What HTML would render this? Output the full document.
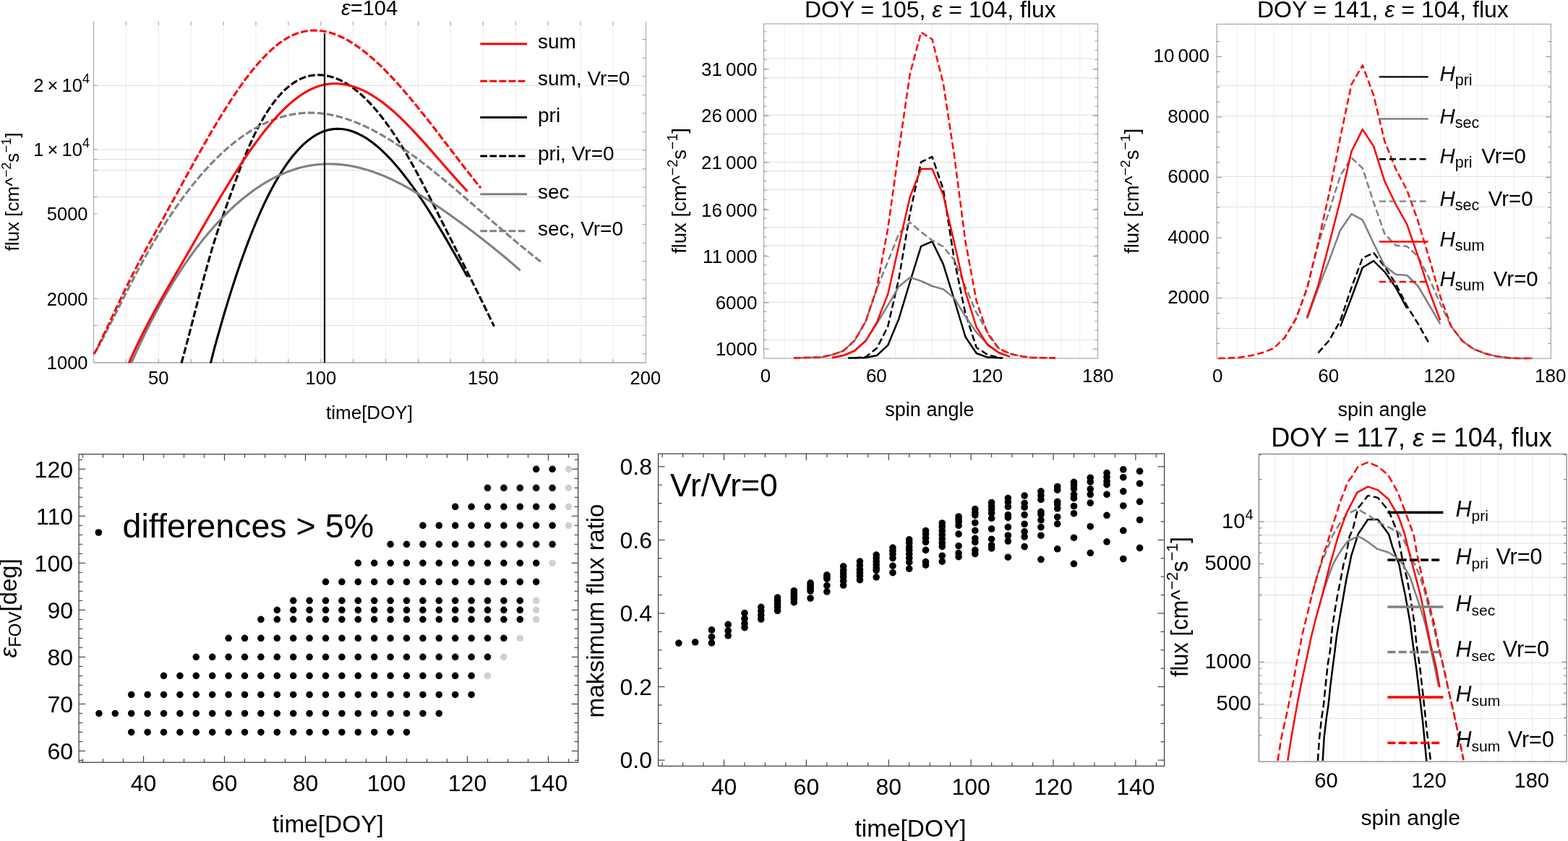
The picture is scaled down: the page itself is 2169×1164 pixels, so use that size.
<!DOCTYPE html>
<html><head><meta charset="utf-8"><title>Flux plots</title>
<style>html,body{margin:0;padding:0;background:#fff;}svg{display:block;}text{fill:#000;}</style>
</head><body>
<svg width="2169" height="1164" viewBox="0 0 2169 1164" font-family="'Liberation Sans', Arial, Helvetica, sans-serif">
<rect width="2169" height="1164" fill="#fff"/>
<line x1="174.4" y1="30" x2="174.4" y2="502" stroke="#ececec" stroke-width="1" />
<line x1="219.3" y1="30" x2="219.3" y2="502" stroke="#ececec" stroke-width="1" />
<line x1="264.2" y1="30" x2="264.2" y2="502" stroke="#ececec" stroke-width="1" />
<line x1="309.1" y1="30" x2="309.1" y2="502" stroke="#ececec" stroke-width="1" />
<line x1="354" y1="30" x2="354" y2="502" stroke="#ececec" stroke-width="1" />
<line x1="398.9" y1="30" x2="398.9" y2="502" stroke="#ececec" stroke-width="1" />
<line x1="443.8" y1="30" x2="443.8" y2="502" stroke="#ececec" stroke-width="1" />
<line x1="488.7" y1="30" x2="488.7" y2="502" stroke="#ececec" stroke-width="1" />
<line x1="533.6" y1="30" x2="533.6" y2="502" stroke="#ececec" stroke-width="1" />
<line x1="578.5" y1="30" x2="578.5" y2="502" stroke="#ececec" stroke-width="1" />
<line x1="623.4" y1="30" x2="623.4" y2="502" stroke="#ececec" stroke-width="1" />
<line x1="668.3" y1="30" x2="668.3" y2="502" stroke="#ececec" stroke-width="1" />
<line x1="713.2" y1="30" x2="713.2" y2="502" stroke="#ececec" stroke-width="1" />
<line x1="758.1" y1="30" x2="758.1" y2="502" stroke="#ececec" stroke-width="1" />
<line x1="803" y1="30" x2="803" y2="502" stroke="#ececec" stroke-width="1" />
<line x1="847.9" y1="30" x2="847.9" y2="502" stroke="#ececec" stroke-width="1" />
<line x1="129.5" y1="118.4" x2="893.5" y2="118.4" stroke="#dedede" stroke-width="1" />
<line x1="129.5" y1="207" x2="893.5" y2="207" stroke="#dedede" stroke-width="1" />
<line x1="129.5" y1="220.5" x2="893.5" y2="220.5" stroke="#dedede" stroke-width="1" />
<line x1="129.5" y1="235.6" x2="893.5" y2="235.6" stroke="#dedede" stroke-width="1" />
<line x1="129.5" y1="272.5" x2="893.5" y2="272.5" stroke="#dedede" stroke-width="1" />
<line x1="129.5" y1="413.5" x2="893.5" y2="413.5" stroke="#dedede" stroke-width="1" />
<line x1="129.5" y1="450.4" x2="893.5" y2="450.4" stroke="#dedede" stroke-width="1" />
<line x1="129.5" y1="30" x2="129.5" y2="502" stroke="#a0a0a0" stroke-width="1" />
<line x1="129.5" y1="502" x2="893.5" y2="502" stroke="#a0a0a0" stroke-width="1.3" />
<line x1="893.5" y1="30" x2="893.5" y2="502" stroke="#a0a0a0" stroke-width="1" />
<line x1="174.4" y1="30" x2="174.4" y2="35" stroke="#999" stroke-width="1" />
<line x1="174.4" y1="502" x2="174.4" y2="497" stroke="#999" stroke-width="1" />
<line x1="219.3" y1="30" x2="219.3" y2="35" stroke="#999" stroke-width="1" />
<line x1="219.3" y1="502" x2="219.3" y2="497" stroke="#999" stroke-width="1" />
<line x1="264.2" y1="30" x2="264.2" y2="35" stroke="#999" stroke-width="1" />
<line x1="264.2" y1="502" x2="264.2" y2="497" stroke="#999" stroke-width="1" />
<line x1="309.1" y1="30" x2="309.1" y2="35" stroke="#999" stroke-width="1" />
<line x1="309.1" y1="502" x2="309.1" y2="497" stroke="#999" stroke-width="1" />
<line x1="354" y1="30" x2="354" y2="35" stroke="#999" stroke-width="1" />
<line x1="354" y1="502" x2="354" y2="497" stroke="#999" stroke-width="1" />
<line x1="398.9" y1="30" x2="398.9" y2="35" stroke="#999" stroke-width="1" />
<line x1="398.9" y1="502" x2="398.9" y2="497" stroke="#999" stroke-width="1" />
<line x1="443.8" y1="30" x2="443.8" y2="35" stroke="#999" stroke-width="1" />
<line x1="443.8" y1="502" x2="443.8" y2="497" stroke="#999" stroke-width="1" />
<line x1="488.7" y1="30" x2="488.7" y2="35" stroke="#999" stroke-width="1" />
<line x1="488.7" y1="502" x2="488.7" y2="497" stroke="#999" stroke-width="1" />
<line x1="533.6" y1="30" x2="533.6" y2="35" stroke="#999" stroke-width="1" />
<line x1="533.6" y1="502" x2="533.6" y2="497" stroke="#999" stroke-width="1" />
<line x1="578.5" y1="30" x2="578.5" y2="35" stroke="#999" stroke-width="1" />
<line x1="578.5" y1="502" x2="578.5" y2="497" stroke="#999" stroke-width="1" />
<line x1="623.4" y1="30" x2="623.4" y2="35" stroke="#999" stroke-width="1" />
<line x1="623.4" y1="502" x2="623.4" y2="497" stroke="#999" stroke-width="1" />
<line x1="668.3" y1="30" x2="668.3" y2="35" stroke="#999" stroke-width="1" />
<line x1="668.3" y1="502" x2="668.3" y2="497" stroke="#999" stroke-width="1" />
<line x1="713.2" y1="30" x2="713.2" y2="35" stroke="#999" stroke-width="1" />
<line x1="713.2" y1="502" x2="713.2" y2="497" stroke="#999" stroke-width="1" />
<line x1="758.1" y1="30" x2="758.1" y2="35" stroke="#999" stroke-width="1" />
<line x1="758.1" y1="502" x2="758.1" y2="497" stroke="#999" stroke-width="1" />
<line x1="803" y1="30" x2="803" y2="35" stroke="#999" stroke-width="1" />
<line x1="803" y1="502" x2="803" y2="497" stroke="#999" stroke-width="1" />
<line x1="847.9" y1="30" x2="847.9" y2="35" stroke="#999" stroke-width="1" />
<line x1="847.9" y1="502" x2="847.9" y2="497" stroke="#999" stroke-width="1" />
<line x1="129.5" y1="118.4" x2="134.5" y2="118.4" stroke="#999" stroke-width="1" />
<line x1="129.5" y1="207" x2="134.5" y2="207" stroke="#999" stroke-width="1" />
<line x1="129.5" y1="220.5" x2="134.5" y2="220.5" stroke="#999" stroke-width="1" />
<line x1="129.5" y1="235.6" x2="134.5" y2="235.6" stroke="#999" stroke-width="1" />
<line x1="129.5" y1="272.5" x2="134.5" y2="272.5" stroke="#999" stroke-width="1" />
<line x1="129.5" y1="296" x2="134.5" y2="296" stroke="#999" stroke-width="1" />
<line x1="129.5" y1="413.5" x2="134.5" y2="413.5" stroke="#999" stroke-width="1" />
<line x1="129.5" y1="450.4" x2="134.5" y2="450.4" stroke="#999" stroke-width="1" />
<line x1="893.5" y1="54.5" x2="888.5" y2="54.5" stroke="#999" stroke-width="1" />
<line x1="893.5" y1="80.1" x2="888.5" y2="80.1" stroke="#999" stroke-width="1" />
<line x1="893.5" y1="105.7" x2="888.5" y2="105.7" stroke="#999" stroke-width="1" />
<line x1="893.5" y1="131.3" x2="888.5" y2="131.3" stroke="#999" stroke-width="1" />
<line x1="893.5" y1="156.9" x2="888.5" y2="156.9" stroke="#999" stroke-width="1" />
<line x1="893.5" y1="182.5" x2="888.5" y2="182.5" stroke="#999" stroke-width="1" />
<line x1="893.5" y1="208.1" x2="888.5" y2="208.1" stroke="#999" stroke-width="1" />
<line x1="893.5" y1="233.7" x2="888.5" y2="233.7" stroke="#999" stroke-width="1" />
<line x1="893.5" y1="259.3" x2="888.5" y2="259.3" stroke="#999" stroke-width="1" />
<line x1="893.5" y1="284.9" x2="888.5" y2="284.9" stroke="#999" stroke-width="1" />
<line x1="893.5" y1="310.5" x2="888.5" y2="310.5" stroke="#999" stroke-width="1" />
<line x1="893.5" y1="336.1" x2="888.5" y2="336.1" stroke="#999" stroke-width="1" />
<line x1="893.5" y1="361.7" x2="888.5" y2="361.7" stroke="#999" stroke-width="1" />
<line x1="893.5" y1="387.3" x2="888.5" y2="387.3" stroke="#999" stroke-width="1" />
<line x1="893.5" y1="412.9" x2="888.5" y2="412.9" stroke="#999" stroke-width="1" />
<line x1="893.5" y1="438.5" x2="888.5" y2="438.5" stroke="#999" stroke-width="1" />
<line x1="893.5" y1="464.1" x2="888.5" y2="464.1" stroke="#999" stroke-width="1" />
<line x1="893.5" y1="489.7" x2="888.5" y2="489.7" stroke="#999" stroke-width="1" />
<polyline points="291.4,502.5 294.4,490.31 297.4,479.19 300.4,468.28 303.4,457.58 306.4,447.08 309.4,436.79 312.4,426.71 315.4,416.83 318.4,407.15 321.4,397.69 324.4,388.42 327.4,379.36 330.4,370.51 333.4,361.86 336.4,353.41 339.4,345.17 342.4,337.12 345.4,329.29 348.4,321.65 351.4,314.23 354.4,307.01 357.4,300 360.4,293.2 363.4,286.6 366.4,280.21 369.4,274.03 372.4,268.05 375.4,262.28 378.4,256.71 381.4,251.33 384.4,246.16 387.4,241.19 390.4,236.42 393.4,231.84 396.4,227.46 399.4,223.27 402.4,219.28 405.4,215.48 408.4,211.88 411.4,208.46 414.4,205.23 417.4,202.19 420.4,199.34 423.4,196.68 426.4,194.2 429.4,191.91 432.4,189.8 435.4,187.87 438.4,186.12 441.4,184.55 444.4,183.17 447.4,181.96 450.4,180.92 453.4,180.07 456.4,179.38 459.4,178.86 462.4,178.51 465.4,178.33 468.4,178.31 471.4,178.45 474.4,178.74 477.4,179.19 480.4,179.8 483.4,180.56 486.4,181.46 489.4,182.51 492.4,183.71 495.4,185.05 498.4,186.52 501.4,188.14 504.4,189.89 507.4,191.77 510.4,193.78 513.4,195.92 516.4,198.18 519.4,200.57 522.4,203.07 525.4,205.7 528.4,208.44 531.4,211.29 534.4,214.26 537.4,217.34 540.4,220.52 543.4,223.8 546.4,227.19 549.4,230.68 552.4,234.26 555.4,237.94 558.4,241.72 561.4,245.58 564.4,249.53 567.4,253.56 570.4,257.68 573.4,261.88 576.4,266.16 579.4,270.52 582.4,274.95 585.4,279.45 588.4,284.02 591.4,288.65 594.4,293.35 597.4,298.12 600.4,302.94 603.4,307.82 606.4,312.76 609.4,317.74 612.4,322.78 615.4,327.87 618.4,333 621.4,338.18 624.4,343.4 627.4,348.65 630.4,353.95 633.4,359.27 636.4,364.63 639.4,370.02 642.4,375.44 645.4,380.88 646.8,383" fill="none" stroke="#000" stroke-width="3.1" stroke-linejoin="round" />
<polyline points="251,502.5 254,491.63 257,480.47 260,469.13 263,457.66 266,446.11 269,434.51 272,422.92 275,411.38 278,399.93 281,388.62 284,377.49 287,366.59 290,355.97 293,345.66 296,335.71 299,326.17 302,317.04 305,308.24 308,299.69 311,291.33 314,283.08 317,274.86 320,266.61 323,258.29 326,249.99 329,241.76 332,233.67 335,225.81 338,218.22 341,210.91 344,203.88 347,197.13 350,190.65 353,184.44 356,178.5 359,172.81 362,167.38 365,162.2 368,157.28 371,152.59 374,148.15 377,143.95 380,139.98 383,136.24 386,132.72 389,129.43 392,126.36 395,123.5 398,120.85 401,118.41 404,116.17 407,114.13 410,112.28 413,110.63 416,109.17 419,107.88 422,106.78 425,105.86 428,105.1 431,104.52 434,104.1 437,103.84 440,103.74 443,103.79 446,103.99 449,104.34 452,104.82 455,105.46 458,106.23 461,107.14 464,108.19 467,109.37 470,110.7 473,112.16 476,113.75 479,115.48 482,117.35 485,119.34 488,121.47 491,123.72 494,126.11 497,128.62 500,131.26 503,134.03 506,136.92 509,139.94 512,143.08 515,146.35 518,149.73 521,153.24 524,156.87 527,160.61 530,164.47 533,168.45 536,172.55 539,176.76 542,181.09 545,185.53 548,190.08 551,194.74 554,199.51 557,204.39 560,209.38 563,214.48 566,219.69 569,224.99 572,230.38 575,235.87 578,241.43 581,247.06 584,252.76 587,258.52 590,264.34 593,270.19 596,276.09 599,282.02 602,287.98 605,293.96 608,299.95 611,305.94 614,311.94 617,317.92 620,323.9 623,329.86 626,335.81 629,341.75 632,347.69 635,353.63 638,359.56 641,365.5 644,371.45 647,377.41 650,383.37 653,389.36 656,395.36 659,401.38 662,407.43 665,413.5 668,419.6 671,425.73 674,431.9 677,438.11 680,444.35 683,450.64 683.5,451.7" fill="none" stroke="#000" stroke-width="3.1" stroke-linejoin="round" stroke-dasharray="9.7,3.4" />
<polyline points="181.5,502.5 184.5,495.98 187.5,489.38 190.5,482.89 193.5,476.5 196.5,470.21 199.5,464.02 202.5,457.93 205.5,451.95 208.5,446.06 211.5,440.27 214.5,434.57 217.5,428.97 220.5,423.47 223.5,418.06 226.5,412.75 229.5,407.53 232.5,402.39 235.5,397.35 238.5,392.41 241.5,387.54 244.5,382.77 247.5,378.09 250.5,373.49 253.5,368.98 256.5,364.55 259.5,360.2 262.5,355.94 265.5,351.77 268.5,347.67 271.5,343.65 274.5,339.71 277.5,335.85 280.5,332.07 283.5,328.37 286.5,324.74 289.5,321.18 292.5,317.7 295.5,314.29 298.5,310.95 301.5,307.68 304.5,304.48 307.5,301.35 310.5,298.29 313.5,295.29 316.5,292.36 319.5,289.5 322.5,286.7 325.5,283.97 328.5,281.31 331.5,278.71 334.5,276.17 337.5,273.71 340.5,271.3 343.5,268.97 346.5,266.69 349.5,264.49 352.5,262.34 355.5,260.26 358.5,258.25 361.5,256.3 364.5,254.42 367.5,252.59 370.5,250.84 373.5,249.14 376.5,247.51 379.5,245.95 382.5,244.44 385.5,243 388.5,241.63 391.5,240.31 394.5,239.06 397.5,237.87 400.5,236.74 403.5,235.68 406.5,234.68 409.5,233.74 412.5,232.86 415.5,232.04 418.5,231.29 421.5,230.59 424.5,229.96 427.5,229.39 430.5,228.87 433.5,228.42 436.5,228.03 439.5,227.7 442.5,227.43 445.5,227.22 448.5,227.07 451.5,226.97 454.5,226.93 457.5,226.95 460.5,227.02 463.5,227.15 466.5,227.34 469.5,227.58 472.5,227.87 475.5,228.21 478.5,228.61 481.5,229.06 484.5,229.57 487.5,230.12 490.5,230.72 493.5,231.38 496.5,232.08 499.5,232.83 502.5,233.63 505.5,234.48 508.5,235.38 511.5,236.32 514.5,237.31 517.5,238.35 520.5,239.43 523.5,240.55 526.5,241.72 529.5,242.93 532.5,244.19 535.5,245.49 538.5,246.83 541.5,248.21 544.5,249.63 547.5,251.09 550.5,252.59 553.5,254.12 556.5,255.69 559.5,257.3 562.5,258.94 565.5,260.62 568.5,262.33 571.5,264.06 574.5,265.83 577.5,267.63 580.5,269.46 583.5,271.32 586.5,273.2 589.5,275.1 592.5,277.04 595.5,278.99 598.5,280.97 601.5,282.97 604.5,284.99 607.5,287.03 610.5,289.09 613.5,291.17 616.5,293.27 619.5,295.38 622.5,297.51 625.5,299.65 628.5,301.8 631.5,303.97 634.5,306.15 637.5,308.34 640.5,310.55 643.5,312.78 646.5,315.01 649.5,317.26 652.5,319.53 655.5,321.81 658.5,324.11 661.5,326.42 664.5,328.74 667.5,331.08 670.5,333.43 673.5,335.8 676.5,338.19 679.5,340.59 682.5,343 685.5,345.43 688.5,347.88 691.5,350.34 694.5,352.81 697.5,355.31 700.5,357.81 703.5,360.34 706.5,362.88 709.5,365.44 712.5,368.01 715.5,370.6 718.5,373.2 719.5,374.6" fill="none" stroke="#808080" stroke-width="3.1" stroke-linejoin="round" />
<polyline points="129.8,490 132.8,485.5 135.8,480.1 138.8,474.61 141.8,469.03 144.8,463.37 147.8,457.65 150.8,451.88 153.8,446.05 156.8,440.18 159.8,434.29 162.8,428.38 165.8,422.46 168.8,416.53 171.8,410.62 174.8,404.72 177.8,398.86 180.8,393.03 183.8,387.24 186.8,381.52 189.8,375.85 192.8,370.26 195.8,364.75 198.8,359.3 201.8,353.93 204.8,348.63 207.8,343.4 210.8,338.24 213.8,333.16 216.8,328.15 219.8,323.22 222.8,318.36 225.8,313.57 228.8,308.86 231.8,304.23 234.8,299.66 237.8,295.17 240.8,290.76 243.8,286.42 246.8,282.15 249.8,277.96 252.8,273.84 255.8,269.8 258.8,265.82 261.8,261.93 264.8,258.1 267.8,254.35 270.8,250.67 273.8,247.06 276.8,243.52 279.8,240.06 282.8,236.67 285.8,233.35 288.8,230.1 291.8,226.93 294.8,223.82 297.8,220.79 300.8,217.83 303.8,214.94 306.8,212.12 309.8,209.38 312.8,206.7 315.8,204.1 318.8,201.56 321.8,199.1 324.8,196.7 327.8,194.38 330.8,192.12 333.8,189.94 336.8,187.82 339.8,185.78 342.8,183.8 345.8,181.9 348.8,180.06 351.8,178.29 354.8,176.59 357.8,174.96 360.8,173.4 363.8,171.91 366.8,170.48 369.8,169.12 372.8,167.84 375.8,166.61 378.8,165.46 381.8,164.38 384.8,163.36 387.8,162.41 390.8,161.52 393.8,160.71 396.8,159.96 399.8,159.28 402.8,158.66 405.8,158.11 408.8,157.63 411.8,157.21 414.8,156.86 417.8,156.58 420.8,156.36 423.8,156.21 426.8,156.12 429.8,156.1 432.8,156.14 435.8,156.25 438.8,156.42 441.8,156.66 444.8,156.96 447.8,157.32 450.8,157.74 453.8,158.22 456.8,158.76 459.8,159.36 462.8,160.01 465.8,160.73 468.8,161.5 471.8,162.32 474.8,163.2 477.8,164.13 480.8,165.11 483.8,166.15 486.8,167.23 489.8,168.37 492.8,169.55 495.8,170.79 498.8,172.07 501.8,173.4 504.8,174.77 507.8,176.19 510.8,177.65 513.8,179.16 516.8,180.71 519.8,182.3 522.8,183.93 525.8,185.6 528.8,187.31 531.8,189.06 534.8,190.85 537.8,192.67 540.8,194.53 543.8,196.43 546.8,198.35 549.8,200.32 552.8,202.31 555.8,204.34 558.8,206.4 561.8,208.48 564.8,210.6 567.8,212.74 570.8,214.92 573.8,217.12 576.8,219.34 579.8,221.59 582.8,223.87 585.8,226.16 588.8,228.49 591.8,230.83 594.8,233.19 597.8,235.57 600.8,237.98 603.8,240.4 606.8,242.84 609.8,245.29 612.8,247.76 615.8,250.25 618.8,252.75 621.8,255.27 624.8,257.79 627.8,260.33 630.8,262.88 633.8,265.44 636.8,268.01 639.8,270.59 642.8,273.17 645.8,275.77 648.8,278.36 651.8,280.97 654.8,283.57 657.8,286.19 660.8,288.8 663.8,291.41 666.8,294.03 669.8,296.65 672.8,299.26 675.8,301.88 678.8,304.49 681.8,307.1 684.8,309.7 687.8,312.3 690.8,314.9 693.8,317.49 696.8,320.07 699.8,322.64 702.8,325.2 705.8,327.76 708.8,330.3 711.8,332.83 714.8,335.35 717.8,337.86 720.8,340.35 723.8,342.83 726.8,345.29 729.8,347.73 732.8,350.16 735.8,352.57 738.8,354.96 741.8,357.33 744.8,359.68 747.8,362.01 750.2,365" fill="none" stroke="#808080" stroke-width="3.1" stroke-linejoin="round" stroke-dasharray="9.7,3.4" stroke-dashoffset="6"/>
<polyline points="178.3,502.5 181.3,495.31 184.3,488.78 187.3,482.39 190.3,476.12 193.3,469.96 196.3,463.92 199.3,457.99 202.3,452.15 205.3,446.4 208.3,440.74 211.3,435.16 214.3,429.65 217.3,424.21 220.3,418.83 223.3,413.5 226.3,408.22 229.3,402.98 232.3,397.77 235.3,392.59 238.3,387.43 241.3,382.29 244.3,377.15 247.3,372.02 250.3,366.88 253.3,361.73 256.3,356.56 259.3,351.38 262.3,346.18 265.3,340.97 268.3,335.76 271.3,330.54 274.3,325.32 277.3,320.1 280.3,314.89 283.3,309.69 286.3,304.5 289.3,299.32 292.3,294.17 295.3,289.03 298.3,283.92 301.3,278.84 304.3,273.8 307.3,268.79 310.3,263.81 313.3,258.88 316.3,253.99 319.3,249.14 322.3,244.35 325.3,239.6 328.3,234.91 331.3,230.27 334.3,225.69 337.3,221.16 340.3,216.7 343.3,212.31 346.3,207.98 349.3,203.71 352.3,199.53 355.3,195.41 358.3,191.37 361.3,187.41 364.3,183.53 367.3,179.74 370.3,176.03 373.3,172.4 376.3,168.87 379.3,165.43 382.3,162.09 385.3,158.84 388.3,155.7 391.3,152.65 394.3,149.71 397.3,146.88 400.3,144.16 403.3,141.55 406.3,139.05 409.3,136.67 412.3,134.41 415.3,132.27 418.3,130.26 421.3,128.37 424.3,126.61 427.3,124.97 430.3,123.48 433.3,122.12 436.3,120.89 439.3,119.8 442.3,118.84 445.3,118.02 448.3,117.32 451.3,116.75 454.3,116.31 457.3,116 460.3,115.8 463.3,115.73 466.3,115.78 469.3,115.95 472.3,116.24 475.3,116.64 478.3,117.16 481.3,117.79 484.3,118.52 487.3,119.37 490.3,120.33 493.3,121.39 496.3,122.56 499.3,123.83 502.3,125.2 505.3,126.67 508.3,128.24 511.3,129.91 514.3,131.67 517.3,133.53 520.3,135.47 523.3,137.51 526.3,139.64 529.3,141.85 532.3,144.15 535.3,146.53 538.3,149 541.3,151.54 544.3,154.16 547.3,156.86 550.3,159.62 553.3,162.46 556.3,165.35 559.3,168.3 562.3,171.31 565.3,174.37 568.3,177.49 571.3,180.64 574.3,183.84 577.3,187.08 580.3,190.35 583.3,193.66 586.3,196.99 589.3,200.35 592.3,203.74 595.3,207.14 598.3,210.55 601.3,213.98 604.3,217.41 607.3,220.85 610.3,224.29 613.3,227.73 616.3,231.16 619.3,234.59 622.3,238 625.3,241.39 628.3,244.77 631.3,248.12 634.3,251.45 637.3,254.75 640.3,258.01 643.3,261.24 646.3,264.43 646.8,264.8" fill="none" stroke="#ff0000" stroke-width="3.1" stroke-linejoin="round" />
<polyline points="129.8,490 132.8,485.39 135.8,479.25 138.8,473.04 141.8,466.79 144.8,460.49 147.8,454.16 150.8,447.8 153.8,441.43 156.8,435.06 159.8,428.7 162.8,422.35 165.8,416.03 168.8,409.74 171.8,403.5 174.8,397.32 177.8,391.21 180.8,385.17 183.8,379.22 186.8,373.36 189.8,367.6 192.8,361.92 195.8,356.32 198.8,350.78 201.8,345.29 204.8,339.85 207.8,334.44 210.8,329.06 213.8,323.68 216.8,318.32 219.8,312.94 222.8,307.55 225.8,302.13 228.8,296.7 231.8,291.25 234.8,285.79 237.8,280.32 240.8,274.85 243.8,269.37 246.8,263.89 249.8,258.41 252.8,252.94 255.8,247.47 258.8,242.02 261.8,236.58 264.8,231.15 267.8,225.75 270.8,220.37 273.8,215.01 276.8,209.68 279.8,204.39 282.8,199.12 285.8,193.9 288.8,188.71 291.8,183.57 294.8,178.47 297.8,173.42 300.8,168.42 303.8,163.48 306.8,158.59 309.8,153.77 312.8,149 315.8,144.31 318.8,139.68 321.8,135.12 324.8,130.64 327.8,126.23 330.8,121.9 333.8,117.66 336.8,113.51 339.8,109.44 342.8,105.46 345.8,101.58 348.8,97.8 351.8,94.12 354.8,90.54 357.8,87.06 360.8,83.7 363.8,80.45 366.8,77.31 369.8,74.29 372.8,71.39 375.8,68.62 378.8,65.97 381.8,63.45 384.8,61.06 387.8,58.81 390.8,56.7 393.8,54.73 396.8,52.9 399.8,51.22 402.8,49.68 405.8,48.3 408.8,47.06 411.8,45.96 414.8,45 417.8,44.19 420.8,43.51 423.8,42.96 426.8,42.55 429.8,42.27 432.8,42.12 435.8,42.1 438.8,42.2 441.8,42.42 444.8,42.77 447.8,43.23 450.8,43.81 453.8,44.51 456.8,45.32 459.8,46.24 462.8,47.27 465.8,48.41 468.8,49.65 471.8,50.99 474.8,52.44 477.8,53.98 480.8,55.62 483.8,57.36 486.8,59.19 489.8,61.11 492.8,63.11 495.8,65.21 498.8,67.39 501.8,69.65 504.8,72 507.8,74.42 510.8,76.92 513.8,79.49 516.8,82.14 519.8,84.85 522.8,87.64 525.8,90.49 528.8,93.41 531.8,96.39 534.8,99.43 537.8,102.53 540.8,105.68 543.8,108.89 546.8,112.15 549.8,115.47 552.8,118.83 555.8,122.23 558.8,125.69 561.8,129.18 564.8,132.72 567.8,136.29 570.8,139.9 573.8,143.54 576.8,147.22 579.8,150.93 582.8,154.66 585.8,158.42 588.8,162.21 591.8,166.02 594.8,169.84 597.8,173.69 600.8,177.55 603.8,181.43 606.8,185.32 609.8,189.22 612.8,193.13 615.8,197.04 618.8,200.96 621.8,204.88 624.8,208.8 627.8,212.72 630.8,216.63 633.8,220.54 636.8,224.44 639.8,228.33 642.8,232.21 645.8,236.07 648.8,239.92 651.8,243.75 654.8,247.56 657.8,251.35 660.8,255.11 663.8,258.85 665.4,260" fill="none" stroke="#ff0000" stroke-width="3.1" stroke-linejoin="round" stroke-dasharray="9.7,3.4" />
<line x1="449" y1="46" x2="449" y2="502" stroke="#000" stroke-width="2.2" />
<polyline points="664.3,60.7 729,60.7" fill="none" stroke="#ff0000" stroke-width="3" stroke-linejoin="round" />
<text x="744" y="66.7" font-size="28" text-anchor="start" >sum</text>
<polyline points="664.3,112.2 729,112.2" fill="none" stroke="#ff0000" stroke-width="3" stroke-linejoin="round" stroke-dasharray="9.7,3.4" />
<text x="744" y="118.2" font-size="28" text-anchor="start" >sum, Vr=0</text>
<polyline points="664.3,162.6 729,162.6" fill="none" stroke="#000" stroke-width="3" stroke-linejoin="round" />
<text x="744" y="168.6" font-size="28" text-anchor="start" >pri</text>
<polyline points="664.3,216 729,216" fill="none" stroke="#000" stroke-width="3" stroke-linejoin="round" stroke-dasharray="9.7,3.4" />
<text x="744" y="222" font-size="28" text-anchor="start" >pri, Vr=0</text>
<polyline points="664.3,268.8 729,268.8" fill="none" stroke="#808080" stroke-width="3" stroke-linejoin="round" />
<text x="744" y="274.8" font-size="28" text-anchor="start" >sec</text>
<polyline points="664.3,319.7 729,319.7" fill="none" stroke="#808080" stroke-width="3" stroke-linejoin="round" stroke-dasharray="9.7,3.4" />
<text x="744" y="325.7" font-size="28" text-anchor="start" >sec, Vr=0</text>
<text x="124" y="127.4" font-size="25.5" text-anchor="end" >2 × 10<tspan dy="-12" font-size="18">4</tspan></text>
<text x="124" y="216" font-size="25.5" text-anchor="end" >1 × 10<tspan dy="-12" font-size="18">4</tspan></text>
<text x="121.5" y="305" font-size="25.5" text-anchor="end" >5000</text>
<text x="121.5" y="422.5" font-size="25.5" text-anchor="end" >2000</text>
<text x="121.5" y="511" font-size="25.5" text-anchor="end" >1000</text>
<text x="219.3" y="532" font-size="25.5" text-anchor="middle" >50</text>
<text x="443.8" y="532" font-size="25.5" text-anchor="middle" >100</text>
<text x="668.3" y="532" font-size="25.5" text-anchor="middle" >150</text>
<text x="892.8" y="532" font-size="25.5" text-anchor="middle" >200</text>
<text x="511" y="579.5" font-size="26" text-anchor="middle" >time[DOY]</text>
<text x="26.1" y="265.55" font-size="26.5" text-anchor="middle" transform="rotate(-90 26.1 265.55)" textLength="164" lengthAdjust="spacingAndGlyphs" >flux [cm^<tspan dy="-10.7" font-size="18.5">−2</tspan><tspan dy="10.7">s</tspan><tspan dy="-10.7" font-size="18.5">−1</tspan><tspan dy="10.7">]</tspan></text>
<text x="511" y="20.7" font-size="29" text-anchor="middle" ><tspan font-style="italic">ε</tspan>=104</text>
<line x1="1085.14" y1="33" x2="1085.14" y2="496" stroke="#ececec" stroke-width="1" />
<line x1="1110.68" y1="33" x2="1110.68" y2="496" stroke="#ececec" stroke-width="1" />
<line x1="1136.22" y1="33" x2="1136.22" y2="496" stroke="#ececec" stroke-width="1" />
<line x1="1161.76" y1="33" x2="1161.76" y2="496" stroke="#ececec" stroke-width="1" />
<line x1="1187.3" y1="33" x2="1187.3" y2="496" stroke="#ececec" stroke-width="1" />
<line x1="1212.84" y1="33" x2="1212.84" y2="496" stroke="#ececec" stroke-width="1" />
<line x1="1238.38" y1="33" x2="1238.38" y2="496" stroke="#ececec" stroke-width="1" />
<line x1="1263.92" y1="33" x2="1263.92" y2="496" stroke="#ececec" stroke-width="1" />
<line x1="1289.46" y1="33" x2="1289.46" y2="496" stroke="#ececec" stroke-width="1" />
<line x1="1315" y1="33" x2="1315" y2="496" stroke="#ececec" stroke-width="1" />
<line x1="1340.54" y1="33" x2="1340.54" y2="496" stroke="#ececec" stroke-width="1" />
<line x1="1366.08" y1="33" x2="1366.08" y2="496" stroke="#ececec" stroke-width="1" />
<line x1="1391.62" y1="33" x2="1391.62" y2="496" stroke="#ececec" stroke-width="1" />
<line x1="1417.16" y1="33" x2="1417.16" y2="496" stroke="#ececec" stroke-width="1" />
<line x1="1442.7" y1="33" x2="1442.7" y2="496" stroke="#ececec" stroke-width="1" />
<line x1="1468.24" y1="33" x2="1468.24" y2="496" stroke="#ececec" stroke-width="1" />
<line x1="1493.78" y1="33" x2="1493.78" y2="496" stroke="#ececec" stroke-width="1" />
<line x1="1056.6" y1="81.1" x2="1518.5" y2="81.1" stroke="#dedede" stroke-width="1" />
<line x1="1056.6" y1="107.7" x2="1518.5" y2="107.7" stroke="#dedede" stroke-width="1" />
<line x1="1056.6" y1="159.3" x2="1518.5" y2="159.3" stroke="#dedede" stroke-width="1" />
<line x1="1056.6" y1="185.3" x2="1518.5" y2="185.3" stroke="#dedede" stroke-width="1" />
<line x1="1056.6" y1="224.3" x2="1518.5" y2="224.3" stroke="#dedede" stroke-width="1" />
<line x1="1056.6" y1="236.6" x2="1518.5" y2="236.6" stroke="#dedede" stroke-width="1" />
<line x1="1056.6" y1="262.6" x2="1518.5" y2="262.6" stroke="#dedede" stroke-width="1" />
<line x1="1056.6" y1="314.8" x2="1518.5" y2="314.8" stroke="#dedede" stroke-width="1" />
<line x1="1056.6" y1="340" x2="1518.5" y2="340" stroke="#dedede" stroke-width="1" />
<line x1="1056.6" y1="392.3" x2="1518.5" y2="392.3" stroke="#dedede" stroke-width="1" />
<line x1="1056.6" y1="418.3" x2="1518.5" y2="418.3" stroke="#dedede" stroke-width="1" />
<line x1="1056.6" y1="470.4" x2="1518.5" y2="470.4" stroke="#dedede" stroke-width="1" />
<rect x="1056.6" y="33" width="461.9000000000001" height="463" fill="none" stroke="#a8a8a8" stroke-width="1.2"/>
<line x1="1056.6" y1="95.9" x2="1063.6" y2="95.9" stroke="#888" stroke-width="1" />
<line x1="1518.5" y1="95.9" x2="1511.5" y2="95.9" stroke="#888" stroke-width="1" />
<line x1="1056.6" y1="160.1" x2="1063.6" y2="160.1" stroke="#888" stroke-width="1" />
<line x1="1518.5" y1="160.1" x2="1511.5" y2="160.1" stroke="#888" stroke-width="1" />
<line x1="1056.6" y1="224.7" x2="1063.6" y2="224.7" stroke="#888" stroke-width="1" />
<line x1="1518.5" y1="224.7" x2="1511.5" y2="224.7" stroke="#888" stroke-width="1" />
<line x1="1056.6" y1="290.4" x2="1063.6" y2="290.4" stroke="#888" stroke-width="1" />
<line x1="1518.5" y1="290.4" x2="1511.5" y2="290.4" stroke="#888" stroke-width="1" />
<line x1="1056.6" y1="354.7" x2="1063.6" y2="354.7" stroke="#888" stroke-width="1" />
<line x1="1518.5" y1="354.7" x2="1511.5" y2="354.7" stroke="#888" stroke-width="1" />
<line x1="1056.6" y1="418.9" x2="1063.6" y2="418.9" stroke="#888" stroke-width="1" />
<line x1="1518.5" y1="418.9" x2="1511.5" y2="418.9" stroke="#888" stroke-width="1" />
<line x1="1056.6" y1="483.1" x2="1063.6" y2="483.1" stroke="#888" stroke-width="1" />
<line x1="1518.5" y1="483.1" x2="1511.5" y2="483.1" stroke="#888" stroke-width="1" />
<line x1="1056.6" y1="470.2" x2="1060.6" y2="470.2" stroke="#999" stroke-width="1" />
<line x1="1518.5" y1="470.2" x2="1514.5" y2="470.2" stroke="#999" stroke-width="1" />
<line x1="1056.6" y1="457.28" x2="1060.6" y2="457.28" stroke="#999" stroke-width="1" />
<line x1="1518.5" y1="457.28" x2="1514.5" y2="457.28" stroke="#999" stroke-width="1" />
<line x1="1056.6" y1="444.36" x2="1060.6" y2="444.36" stroke="#999" stroke-width="1" />
<line x1="1518.5" y1="444.36" x2="1514.5" y2="444.36" stroke="#999" stroke-width="1" />
<line x1="1056.6" y1="431.44" x2="1060.6" y2="431.44" stroke="#999" stroke-width="1" />
<line x1="1518.5" y1="431.44" x2="1514.5" y2="431.44" stroke="#999" stroke-width="1" />
<line x1="1056.6" y1="418.52" x2="1060.6" y2="418.52" stroke="#999" stroke-width="1" />
<line x1="1518.5" y1="418.52" x2="1514.5" y2="418.52" stroke="#999" stroke-width="1" />
<line x1="1056.6" y1="405.6" x2="1060.6" y2="405.6" stroke="#999" stroke-width="1" />
<line x1="1518.5" y1="405.6" x2="1514.5" y2="405.6" stroke="#999" stroke-width="1" />
<line x1="1056.6" y1="392.68" x2="1060.6" y2="392.68" stroke="#999" stroke-width="1" />
<line x1="1518.5" y1="392.68" x2="1514.5" y2="392.68" stroke="#999" stroke-width="1" />
<line x1="1056.6" y1="379.76" x2="1060.6" y2="379.76" stroke="#999" stroke-width="1" />
<line x1="1518.5" y1="379.76" x2="1514.5" y2="379.76" stroke="#999" stroke-width="1" />
<line x1="1056.6" y1="366.84" x2="1060.6" y2="366.84" stroke="#999" stroke-width="1" />
<line x1="1518.5" y1="366.84" x2="1514.5" y2="366.84" stroke="#999" stroke-width="1" />
<line x1="1056.6" y1="353.92" x2="1060.6" y2="353.92" stroke="#999" stroke-width="1" />
<line x1="1518.5" y1="353.92" x2="1514.5" y2="353.92" stroke="#999" stroke-width="1" />
<line x1="1056.6" y1="341" x2="1060.6" y2="341" stroke="#999" stroke-width="1" />
<line x1="1518.5" y1="341" x2="1514.5" y2="341" stroke="#999" stroke-width="1" />
<line x1="1056.6" y1="328.08" x2="1060.6" y2="328.08" stroke="#999" stroke-width="1" />
<line x1="1518.5" y1="328.08" x2="1514.5" y2="328.08" stroke="#999" stroke-width="1" />
<line x1="1056.6" y1="315.16" x2="1060.6" y2="315.16" stroke="#999" stroke-width="1" />
<line x1="1518.5" y1="315.16" x2="1514.5" y2="315.16" stroke="#999" stroke-width="1" />
<line x1="1056.6" y1="302.24" x2="1060.6" y2="302.24" stroke="#999" stroke-width="1" />
<line x1="1518.5" y1="302.24" x2="1514.5" y2="302.24" stroke="#999" stroke-width="1" />
<line x1="1056.6" y1="289.32" x2="1060.6" y2="289.32" stroke="#999" stroke-width="1" />
<line x1="1518.5" y1="289.32" x2="1514.5" y2="289.32" stroke="#999" stroke-width="1" />
<line x1="1056.6" y1="276.4" x2="1060.6" y2="276.4" stroke="#999" stroke-width="1" />
<line x1="1518.5" y1="276.4" x2="1514.5" y2="276.4" stroke="#999" stroke-width="1" />
<line x1="1056.6" y1="263.48" x2="1060.6" y2="263.48" stroke="#999" stroke-width="1" />
<line x1="1518.5" y1="263.48" x2="1514.5" y2="263.48" stroke="#999" stroke-width="1" />
<line x1="1056.6" y1="250.56" x2="1060.6" y2="250.56" stroke="#999" stroke-width="1" />
<line x1="1518.5" y1="250.56" x2="1514.5" y2="250.56" stroke="#999" stroke-width="1" />
<line x1="1056.6" y1="237.64" x2="1060.6" y2="237.64" stroke="#999" stroke-width="1" />
<line x1="1518.5" y1="237.64" x2="1514.5" y2="237.64" stroke="#999" stroke-width="1" />
<line x1="1056.6" y1="224.72" x2="1060.6" y2="224.72" stroke="#999" stroke-width="1" />
<line x1="1518.5" y1="224.72" x2="1514.5" y2="224.72" stroke="#999" stroke-width="1" />
<line x1="1056.6" y1="211.8" x2="1060.6" y2="211.8" stroke="#999" stroke-width="1" />
<line x1="1518.5" y1="211.8" x2="1514.5" y2="211.8" stroke="#999" stroke-width="1" />
<line x1="1056.6" y1="198.88" x2="1060.6" y2="198.88" stroke="#999" stroke-width="1" />
<line x1="1518.5" y1="198.88" x2="1514.5" y2="198.88" stroke="#999" stroke-width="1" />
<line x1="1056.6" y1="185.96" x2="1060.6" y2="185.96" stroke="#999" stroke-width="1" />
<line x1="1518.5" y1="185.96" x2="1514.5" y2="185.96" stroke="#999" stroke-width="1" />
<line x1="1056.6" y1="173.04" x2="1060.6" y2="173.04" stroke="#999" stroke-width="1" />
<line x1="1518.5" y1="173.04" x2="1514.5" y2="173.04" stroke="#999" stroke-width="1" />
<line x1="1056.6" y1="160.12" x2="1060.6" y2="160.12" stroke="#999" stroke-width="1" />
<line x1="1518.5" y1="160.12" x2="1514.5" y2="160.12" stroke="#999" stroke-width="1" />
<line x1="1056.6" y1="147.2" x2="1060.6" y2="147.2" stroke="#999" stroke-width="1" />
<line x1="1518.5" y1="147.2" x2="1514.5" y2="147.2" stroke="#999" stroke-width="1" />
<line x1="1056.6" y1="134.28" x2="1060.6" y2="134.28" stroke="#999" stroke-width="1" />
<line x1="1518.5" y1="134.28" x2="1514.5" y2="134.28" stroke="#999" stroke-width="1" />
<line x1="1056.6" y1="121.36" x2="1060.6" y2="121.36" stroke="#999" stroke-width="1" />
<line x1="1518.5" y1="121.36" x2="1514.5" y2="121.36" stroke="#999" stroke-width="1" />
<line x1="1056.6" y1="108.44" x2="1060.6" y2="108.44" stroke="#999" stroke-width="1" />
<line x1="1518.5" y1="108.44" x2="1514.5" y2="108.44" stroke="#999" stroke-width="1" />
<line x1="1056.6" y1="95.52" x2="1060.6" y2="95.52" stroke="#999" stroke-width="1" />
<line x1="1518.5" y1="95.52" x2="1514.5" y2="95.52" stroke="#999" stroke-width="1" />
<line x1="1056.6" y1="82.6" x2="1060.6" y2="82.6" stroke="#999" stroke-width="1" />
<line x1="1518.5" y1="82.6" x2="1514.5" y2="82.6" stroke="#999" stroke-width="1" />
<line x1="1056.6" y1="69.68" x2="1060.6" y2="69.68" stroke="#999" stroke-width="1" />
<line x1="1518.5" y1="69.68" x2="1514.5" y2="69.68" stroke="#999" stroke-width="1" />
<line x1="1056.6" y1="56.76" x2="1060.6" y2="56.76" stroke="#999" stroke-width="1" />
<line x1="1518.5" y1="56.76" x2="1514.5" y2="56.76" stroke="#999" stroke-width="1" />
<line x1="1056.6" y1="43.84" x2="1060.6" y2="43.84" stroke="#999" stroke-width="1" />
<line x1="1518.5" y1="43.84" x2="1514.5" y2="43.84" stroke="#999" stroke-width="1" />
<polyline points="1173.2,495.6 1197.52,495.1 1212.84,492.1 1228.16,477.9 1243.49,440.9 1258.81,390 1274.14,340.8 1289.46,334.2 1304.78,365.6 1320.11,415 1335.43,466.2 1350.76,489 1366.08,494.6 1387.2,495.6" fill="none" stroke="#000" stroke-width="2.5" stroke-linejoin="round" />
<polyline points="1182,495.5 1197.52,494 1212.84,482 1228.16,452 1243.49,385 1258.81,295 1274.14,224.2 1289.46,217 1304.78,262 1320.11,360 1335.43,434 1350.76,481 1366.08,491 1381.4,495 1385,495.5" fill="none" stroke="#000" stroke-width="2.5" stroke-linejoin="round" stroke-dasharray="9.3,4.3" />
<polyline points="1150.9,495.1 1166.87,492 1182.19,485.5 1197.52,471.8 1212.84,448 1228.16,422.6 1243.49,396.5 1258.81,384 1274.14,389 1289.46,396 1304.78,400.3 1320.11,412.6 1335.43,438 1350.76,460.1 1366.08,476.3 1381.4,488 1396.73,493.6" fill="none" stroke="#808080" stroke-width="2.5" stroke-linejoin="round" />
<polyline points="1098.1,495.4 1136.22,494.4 1151.54,491 1166.87,485.5 1182.19,471.3 1197.52,444.9 1212.84,400 1228.16,362 1243.49,323 1258.81,307.8 1274.14,321 1289.46,332.7 1304.78,341.3 1320.11,360 1335.43,397 1350.76,433 1366.08,460 1381.4,482 1396.73,489.5 1412.05,493 1427.38,495 1460,495.4" fill="none" stroke="#808080" stroke-width="2.5" stroke-linejoin="round" stroke-dasharray="9.3,4.3" stroke-dashoffset="5"/>
<polyline points="1150.9,495.1 1166.87,492 1182.19,485.5 1197.52,471.8 1212.84,446.4 1228.16,407.4 1243.49,339.4 1258.81,272.3 1274.14,233.8 1289.46,233.8 1304.78,269.8 1320.11,336.5 1335.43,404 1350.76,453 1366.08,477.4 1381.4,488 1396.73,493.6" fill="none" stroke="#ff0000" stroke-width="2.5" stroke-linejoin="round" />
<polyline points="1098.1,495.4 1136.22,494.4 1151.54,491 1166.87,485.5 1182.19,471.3 1197.52,444.9 1212.84,399 1228.16,316.5 1243.49,207 1258.81,102 1274.14,44.7 1289.46,54.3 1304.78,115 1320.11,216 1335.43,334 1350.76,417 1366.08,462 1381.4,482 1396.73,489.5 1412.05,493 1427.38,495 1460,495.4" fill="none" stroke="#ff0000" stroke-width="2.5" stroke-linejoin="round" stroke-dasharray="9.3,4.3" />
<text x="1047.5" y="105.2" font-size="26" text-anchor="end" >31 000</text>
<text x="1047.5" y="169.4" font-size="26" text-anchor="end" >26 000</text>
<text x="1047.5" y="234" font-size="26" text-anchor="end" >21 000</text>
<text x="1047.5" y="299.7" font-size="26" text-anchor="end" >16 000</text>
<text x="1047.5" y="364" font-size="26" text-anchor="end" >11 000</text>
<text x="1047.5" y="428.2" font-size="26" text-anchor="end" >6000</text>
<text x="1047.5" y="492.4" font-size="26" text-anchor="end" >1000</text>
<text x="1059.1" y="529" font-size="26" text-anchor="middle" >0</text>
<text x="1212.34" y="529" font-size="26" text-anchor="middle" >60</text>
<text x="1365.58" y="529" font-size="26" text-anchor="middle" >120</text>
<text x="1518.82" y="529" font-size="26" text-anchor="middle" >180</text>
<text x="1285.9" y="576" font-size="27" text-anchor="middle" >spin angle</text>
<text x="949" y="264.1" font-size="28.5" text-anchor="middle" transform="rotate(-90 949 264.1)" textLength="174" lengthAdjust="spacingAndGlyphs" >flux [cm^<tspan dy="-12" font-size="20">−2</tspan><tspan dy="12">s</tspan><tspan dy="-12" font-size="20">−1</tspan><tspan dy="12">]</tspan></text>
<text x="1286.9" y="24" font-size="32" text-anchor="middle" >DOY = 105, <tspan font-style="italic">ε</tspan> = 104, flux</text>
<line x1="1710.88" y1="33.4" x2="1710.88" y2="496.2" stroke="#ececec" stroke-width="1" />
<line x1="1736.45" y1="33.4" x2="1736.45" y2="496.2" stroke="#ececec" stroke-width="1" />
<line x1="1762.03" y1="33.4" x2="1762.03" y2="496.2" stroke="#ececec" stroke-width="1" />
<line x1="1787.61" y1="33.4" x2="1787.61" y2="496.2" stroke="#ececec" stroke-width="1" />
<line x1="1813.18" y1="33.4" x2="1813.18" y2="496.2" stroke="#ececec" stroke-width="1" />
<line x1="1838.76" y1="33.4" x2="1838.76" y2="496.2" stroke="#ececec" stroke-width="1" />
<line x1="1864.34" y1="33.4" x2="1864.34" y2="496.2" stroke="#ececec" stroke-width="1" />
<line x1="1889.92" y1="33.4" x2="1889.92" y2="496.2" stroke="#ececec" stroke-width="1" />
<line x1="1915.49" y1="33.4" x2="1915.49" y2="496.2" stroke="#ececec" stroke-width="1" />
<line x1="1941.07" y1="33.4" x2="1941.07" y2="496.2" stroke="#ececec" stroke-width="1" />
<line x1="1966.65" y1="33.4" x2="1966.65" y2="496.2" stroke="#ececec" stroke-width="1" />
<line x1="1992.22" y1="33.4" x2="1992.22" y2="496.2" stroke="#ececec" stroke-width="1" />
<line x1="2017.8" y1="33.4" x2="2017.8" y2="496.2" stroke="#ececec" stroke-width="1" />
<line x1="2043.38" y1="33.4" x2="2043.38" y2="496.2" stroke="#ececec" stroke-width="1" />
<line x1="2068.95" y1="33.4" x2="2068.95" y2="496.2" stroke="#ececec" stroke-width="1" />
<line x1="2094.53" y1="33.4" x2="2094.53" y2="496.2" stroke="#ececec" stroke-width="1" />
<line x1="2120.11" y1="33.4" x2="2120.11" y2="496.2" stroke="#ececec" stroke-width="1" />
<line x1="1683.1" y1="118.1" x2="2145.4" y2="118.1" stroke="#dedede" stroke-width="1" />
<line x1="1683.1" y1="160.4" x2="2145.4" y2="160.4" stroke="#dedede" stroke-width="1" />
<line x1="1683.1" y1="244.3" x2="2145.4" y2="244.3" stroke="#dedede" stroke-width="1" />
<line x1="1683.1" y1="286.3" x2="2145.4" y2="286.3" stroke="#dedede" stroke-width="1" />
<line x1="1683.1" y1="412.6" x2="2145.4" y2="412.6" stroke="#dedede" stroke-width="1" />
<line x1="1683.1" y1="454.6" x2="2145.4" y2="454.6" stroke="#dedede" stroke-width="1" />
<rect x="1683.1" y="33.4" width="462.3000000000002" height="462.8" fill="none" stroke="#a8a8a8" stroke-width="1.2"/>
<line x1="1683.1" y1="475.26" x2="1687.1" y2="475.26" stroke="#888" stroke-width="1" />
<line x1="2145.4" y1="475.26" x2="2141.4" y2="475.26" stroke="#888" stroke-width="1" />
<line x1="1683.1" y1="454.38" x2="1687.1" y2="454.38" stroke="#888" stroke-width="1" />
<line x1="2145.4" y1="454.38" x2="2141.4" y2="454.38" stroke="#888" stroke-width="1" />
<line x1="1683.1" y1="433.49" x2="1687.1" y2="433.49" stroke="#888" stroke-width="1" />
<line x1="2145.4" y1="433.49" x2="2141.4" y2="433.49" stroke="#888" stroke-width="1" />
<line x1="1683.1" y1="412.6" x2="1690.1" y2="412.6" stroke="#888" stroke-width="1" />
<line x1="2145.4" y1="412.6" x2="2138.4" y2="412.6" stroke="#888" stroke-width="1" />
<line x1="1683.1" y1="391.71" x2="1687.1" y2="391.71" stroke="#888" stroke-width="1" />
<line x1="2145.4" y1="391.71" x2="2141.4" y2="391.71" stroke="#888" stroke-width="1" />
<line x1="1683.1" y1="370.82" x2="1687.1" y2="370.82" stroke="#888" stroke-width="1" />
<line x1="2145.4" y1="370.82" x2="2141.4" y2="370.82" stroke="#888" stroke-width="1" />
<line x1="1683.1" y1="349.94" x2="1687.1" y2="349.94" stroke="#888" stroke-width="1" />
<line x1="2145.4" y1="349.94" x2="2141.4" y2="349.94" stroke="#888" stroke-width="1" />
<line x1="1683.1" y1="329.05" x2="1690.1" y2="329.05" stroke="#888" stroke-width="1" />
<line x1="2145.4" y1="329.05" x2="2138.4" y2="329.05" stroke="#888" stroke-width="1" />
<line x1="1683.1" y1="308.16" x2="1687.1" y2="308.16" stroke="#888" stroke-width="1" />
<line x1="2145.4" y1="308.16" x2="2141.4" y2="308.16" stroke="#888" stroke-width="1" />
<line x1="1683.1" y1="287.27" x2="1687.1" y2="287.27" stroke="#888" stroke-width="1" />
<line x1="2145.4" y1="287.27" x2="2141.4" y2="287.27" stroke="#888" stroke-width="1" />
<line x1="1683.1" y1="266.39" x2="1687.1" y2="266.39" stroke="#888" stroke-width="1" />
<line x1="2145.4" y1="266.39" x2="2141.4" y2="266.39" stroke="#888" stroke-width="1" />
<line x1="1683.1" y1="245.5" x2="1690.1" y2="245.5" stroke="#888" stroke-width="1" />
<line x1="2145.4" y1="245.5" x2="2138.4" y2="245.5" stroke="#888" stroke-width="1" />
<line x1="1683.1" y1="224.61" x2="1687.1" y2="224.61" stroke="#888" stroke-width="1" />
<line x1="2145.4" y1="224.61" x2="2141.4" y2="224.61" stroke="#888" stroke-width="1" />
<line x1="1683.1" y1="203.72" x2="1687.1" y2="203.72" stroke="#888" stroke-width="1" />
<line x1="2145.4" y1="203.72" x2="2141.4" y2="203.72" stroke="#888" stroke-width="1" />
<line x1="1683.1" y1="182.84" x2="1687.1" y2="182.84" stroke="#888" stroke-width="1" />
<line x1="2145.4" y1="182.84" x2="2141.4" y2="182.84" stroke="#888" stroke-width="1" />
<line x1="1683.1" y1="161.95" x2="1690.1" y2="161.95" stroke="#888" stroke-width="1" />
<line x1="2145.4" y1="161.95" x2="2138.4" y2="161.95" stroke="#888" stroke-width="1" />
<line x1="1683.1" y1="141.06" x2="1687.1" y2="141.06" stroke="#888" stroke-width="1" />
<line x1="2145.4" y1="141.06" x2="2141.4" y2="141.06" stroke="#888" stroke-width="1" />
<line x1="1683.1" y1="120.17" x2="1687.1" y2="120.17" stroke="#888" stroke-width="1" />
<line x1="2145.4" y1="120.17" x2="2141.4" y2="120.17" stroke="#888" stroke-width="1" />
<line x1="1683.1" y1="99.29" x2="1687.1" y2="99.29" stroke="#888" stroke-width="1" />
<line x1="2145.4" y1="99.29" x2="2141.4" y2="99.29" stroke="#888" stroke-width="1" />
<line x1="1683.1" y1="78.4" x2="1690.1" y2="78.4" stroke="#888" stroke-width="1" />
<line x1="2145.4" y1="78.4" x2="2138.4" y2="78.4" stroke="#888" stroke-width="1" />
<line x1="1683.1" y1="57.51" x2="1687.1" y2="57.51" stroke="#888" stroke-width="1" />
<line x1="2145.4" y1="57.51" x2="2141.4" y2="57.51" stroke="#888" stroke-width="1" />
<polyline points="1854.11,451.9 1869.45,412 1884.8,370.3 1900.15,361.1 1915.49,376.3 1930.84,398 1946.19,426.6" fill="none" stroke="#000" stroke-width="2.5" stroke-linejoin="round" />
<polyline points="1823.42,488.4 1838.76,471 1854.11,443.8 1869.45,398 1884.8,357.1 1900.15,350 1915.49,369.2 1930.84,393 1946.19,423.5 1961.53,448 1976.88,475.3" fill="none" stroke="#000" stroke-width="2.5" stroke-linejoin="round" stroke-dasharray="9.3,4.3" />
<polyline points="1808.07,441 1823.42,399 1838.76,360 1854.11,318.5 1869.45,296.2 1884.8,304.3 1900.15,337 1915.49,368 1930.84,380 1946.19,381 1961.53,396 1976.88,422 1992.22,448.4" fill="none" stroke="#808080" stroke-width="2.5" stroke-linejoin="round" />
<polyline points="1777.38,467 1792.72,441 1808.07,399 1823.42,338 1838.76,292 1854.11,243 1869.45,218.2 1884.8,232.9 1900.15,280 1915.49,324 1930.84,339.8 1946.19,340.9 1961.53,355 1976.88,385 1992.22,420 2007.57,452 2022.92,472 2038.26,483 2053.61,489 2068.95,493 2084.3,495 2099.65,496 2120.11,496" fill="none" stroke="#808080" stroke-width="2.5" stroke-linejoin="round" stroke-dasharray="9.3,4.3" stroke-dashoffset="5"/>
<polyline points="1808.07,439.3 1823.42,395.1 1838.76,337 1854.11,277 1869.45,209.6 1884.8,179.1 1900.15,202.5 1915.49,251.1 1930.84,283 1946.19,310.4 1961.53,354.6 1976.88,402.2 1992.22,443.3" fill="none" stroke="#ff0000" stroke-width="2.5" stroke-linejoin="round" />
<polyline points="1685.3,496 1700.65,495.5 1715.99,494.5 1731.34,492 1746.68,488 1762.03,482 1777.38,467 1792.72,441 1808.07,399 1823.42,336 1838.76,267 1854.11,190 1869.45,116.8 1884.8,90.4 1900.15,132 1915.49,196 1930.84,234 1946.19,263 1961.53,306 1976.88,357 1992.22,410 2007.57,452 2022.92,472 2038.26,483 2053.61,489 2068.95,493 2084.3,495 2099.65,496 2120.11,496" fill="none" stroke="#ff0000" stroke-width="2.5" stroke-linejoin="round" stroke-dasharray="9.3,4.3" />
<polyline points="1907.8,106.4 1975.7,106.4" fill="none" stroke="#000" stroke-width="2.4" stroke-linejoin="round" />
<text x="1991.5" y="112.4" font-size="29.4" text-anchor="start" ><tspan font-style="italic">H</tspan><tspan font-size="21.5" dy="6">pri</tspan></text>
<polyline points="1907.8,164.5 1975.7,164.5" fill="none" stroke="#808080" stroke-width="2.4" stroke-linejoin="round" />
<text x="1991.5" y="170.5" font-size="29.4" text-anchor="start" ><tspan font-style="italic">H</tspan><tspan font-size="21.5" dy="6">sec</tspan></text>
<polyline points="1907.8,220.2 1972.5,220.2" fill="none" stroke="#000" stroke-width="2.4" stroke-linejoin="round" stroke-dasharray="9.2,4.8" />
<text x="1991.5" y="226.2" font-size="29.4" text-anchor="start" ><tspan font-style="italic">H</tspan><tspan font-size="21.5" dy="6">pri</tspan><tspan dy="-6" dx="12.5">Vr=0</tspan></text>
<polyline points="1907.8,278.6 1972.5,278.6" fill="none" stroke="#808080" stroke-width="2.4" stroke-linejoin="round" stroke-dasharray="9.2,4.8" />
<text x="1991.5" y="284.6" font-size="29.4" text-anchor="start" ><tspan font-style="italic">H</tspan><tspan font-size="21.5" dy="6">sec</tspan><tspan dy="-6" dx="12.5">Vr=0</tspan></text>
<polyline points="1907.8,334.5 1975.7,334.5" fill="none" stroke="#ff0000" stroke-width="2.4" stroke-linejoin="round" />
<text x="1991.5" y="340.5" font-size="29.4" text-anchor="start" ><tspan font-style="italic">H</tspan><tspan font-size="21.5" dy="6">sum</tspan></text>
<polyline points="1907.8,390 1972.5,390" fill="none" stroke="#ff0000" stroke-width="2.4" stroke-linejoin="round" stroke-dasharray="9.2,4.8" />
<text x="1991.5" y="396" font-size="29.4" text-anchor="start" ><tspan font-style="italic">H</tspan><tspan font-size="21.5" dy="6">sum</tspan><tspan dy="-6" dx="12.5">Vr=0</tspan></text>
<text x="1673" y="86" font-size="26" text-anchor="end" >10 000</text>
<text x="1673" y="169.55" font-size="26" text-anchor="end" >8000</text>
<text x="1673" y="253.1" font-size="26" text-anchor="end" >6000</text>
<text x="1673" y="336.65" font-size="26" text-anchor="end" >4000</text>
<text x="1673" y="420.2" font-size="26" text-anchor="end" >2000</text>
<text x="1684.3" y="529" font-size="26" text-anchor="middle" >0</text>
<text x="1837.76" y="529" font-size="26" text-anchor="middle" >60</text>
<text x="1991.22" y="529" font-size="26" text-anchor="middle" >120</text>
<text x="2144.69" y="529" font-size="26" text-anchor="middle" >180</text>
<text x="1912" y="575.5" font-size="27" text-anchor="middle" >spin angle</text>
<text x="1575.1" y="264.45" font-size="27.4" text-anchor="middle" transform="rotate(-90 1575.1 264.45)" textLength="173" lengthAdjust="spacingAndGlyphs" >flux [cm^<tspan dy="-11.8" font-size="19.2">−2</tspan><tspan dy="11.8">s</tspan><tspan dy="-11.8" font-size="19.2">−1</tspan><tspan dy="11.8">]</tspan></text>
<text x="1912.9" y="24" font-size="32" text-anchor="middle" >DOY = 141, <tspan font-style="italic">ε</tspan> = 104, flux</text>
<rect x="109.1" y="628.6" width="690.6" height="426.6" fill="none" stroke="#444" stroke-width="1.3"/>
<line x1="114.5" y1="1055.2" x2="114.5" y2="1050.2" stroke="#444" stroke-width="1.2" />
<line x1="114.5" y1="628.6" x2="114.5" y2="633.6" stroke="#444" stroke-width="1.2" />
<line x1="142.5" y1="1055.2" x2="142.5" y2="1050.2" stroke="#444" stroke-width="1.2" />
<line x1="142.5" y1="628.6" x2="142.5" y2="633.6" stroke="#444" stroke-width="1.2" />
<line x1="170.5" y1="1055.2" x2="170.5" y2="1050.2" stroke="#444" stroke-width="1.2" />
<line x1="170.5" y1="628.6" x2="170.5" y2="633.6" stroke="#444" stroke-width="1.2" />
<line x1="198.5" y1="1055.2" x2="198.5" y2="1046.2" stroke="#444" stroke-width="1.2" />
<line x1="198.5" y1="628.6" x2="198.5" y2="637.6" stroke="#444" stroke-width="1.2" />
<line x1="226.5" y1="1055.2" x2="226.5" y2="1050.2" stroke="#444" stroke-width="1.2" />
<line x1="226.5" y1="628.6" x2="226.5" y2="633.6" stroke="#444" stroke-width="1.2" />
<line x1="254.5" y1="1055.2" x2="254.5" y2="1050.2" stroke="#444" stroke-width="1.2" />
<line x1="254.5" y1="628.6" x2="254.5" y2="633.6" stroke="#444" stroke-width="1.2" />
<line x1="282.5" y1="1055.2" x2="282.5" y2="1050.2" stroke="#444" stroke-width="1.2" />
<line x1="282.5" y1="628.6" x2="282.5" y2="633.6" stroke="#444" stroke-width="1.2" />
<line x1="310.5" y1="1055.2" x2="310.5" y2="1046.2" stroke="#444" stroke-width="1.2" />
<line x1="310.5" y1="628.6" x2="310.5" y2="637.6" stroke="#444" stroke-width="1.2" />
<line x1="338.5" y1="1055.2" x2="338.5" y2="1050.2" stroke="#444" stroke-width="1.2" />
<line x1="338.5" y1="628.6" x2="338.5" y2="633.6" stroke="#444" stroke-width="1.2" />
<line x1="366.5" y1="1055.2" x2="366.5" y2="1050.2" stroke="#444" stroke-width="1.2" />
<line x1="366.5" y1="628.6" x2="366.5" y2="633.6" stroke="#444" stroke-width="1.2" />
<line x1="394.5" y1="1055.2" x2="394.5" y2="1050.2" stroke="#444" stroke-width="1.2" />
<line x1="394.5" y1="628.6" x2="394.5" y2="633.6" stroke="#444" stroke-width="1.2" />
<line x1="422.5" y1="1055.2" x2="422.5" y2="1046.2" stroke="#444" stroke-width="1.2" />
<line x1="422.5" y1="628.6" x2="422.5" y2="637.6" stroke="#444" stroke-width="1.2" />
<line x1="450.5" y1="1055.2" x2="450.5" y2="1050.2" stroke="#444" stroke-width="1.2" />
<line x1="450.5" y1="628.6" x2="450.5" y2="633.6" stroke="#444" stroke-width="1.2" />
<line x1="478.5" y1="1055.2" x2="478.5" y2="1050.2" stroke="#444" stroke-width="1.2" />
<line x1="478.5" y1="628.6" x2="478.5" y2="633.6" stroke="#444" stroke-width="1.2" />
<line x1="506.5" y1="1055.2" x2="506.5" y2="1050.2" stroke="#444" stroke-width="1.2" />
<line x1="506.5" y1="628.6" x2="506.5" y2="633.6" stroke="#444" stroke-width="1.2" />
<line x1="534.5" y1="1055.2" x2="534.5" y2="1046.2" stroke="#444" stroke-width="1.2" />
<line x1="534.5" y1="628.6" x2="534.5" y2="637.6" stroke="#444" stroke-width="1.2" />
<line x1="562.5" y1="1055.2" x2="562.5" y2="1050.2" stroke="#444" stroke-width="1.2" />
<line x1="562.5" y1="628.6" x2="562.5" y2="633.6" stroke="#444" stroke-width="1.2" />
<line x1="590.5" y1="1055.2" x2="590.5" y2="1050.2" stroke="#444" stroke-width="1.2" />
<line x1="590.5" y1="628.6" x2="590.5" y2="633.6" stroke="#444" stroke-width="1.2" />
<line x1="618.5" y1="1055.2" x2="618.5" y2="1050.2" stroke="#444" stroke-width="1.2" />
<line x1="618.5" y1="628.6" x2="618.5" y2="633.6" stroke="#444" stroke-width="1.2" />
<line x1="646.5" y1="1055.2" x2="646.5" y2="1046.2" stroke="#444" stroke-width="1.2" />
<line x1="646.5" y1="628.6" x2="646.5" y2="637.6" stroke="#444" stroke-width="1.2" />
<line x1="674.5" y1="1055.2" x2="674.5" y2="1050.2" stroke="#444" stroke-width="1.2" />
<line x1="674.5" y1="628.6" x2="674.5" y2="633.6" stroke="#444" stroke-width="1.2" />
<line x1="702.5" y1="1055.2" x2="702.5" y2="1050.2" stroke="#444" stroke-width="1.2" />
<line x1="702.5" y1="628.6" x2="702.5" y2="633.6" stroke="#444" stroke-width="1.2" />
<line x1="730.5" y1="1055.2" x2="730.5" y2="1050.2" stroke="#444" stroke-width="1.2" />
<line x1="730.5" y1="628.6" x2="730.5" y2="633.6" stroke="#444" stroke-width="1.2" />
<line x1="758.5" y1="1055.2" x2="758.5" y2="1046.2" stroke="#444" stroke-width="1.2" />
<line x1="758.5" y1="628.6" x2="758.5" y2="637.6" stroke="#444" stroke-width="1.2" />
<line x1="786.5" y1="1055.2" x2="786.5" y2="1050.2" stroke="#444" stroke-width="1.2" />
<line x1="786.5" y1="628.6" x2="786.5" y2="633.6" stroke="#444" stroke-width="1.2" />
<line x1="109.1" y1="1052.4" x2="114.1" y2="1052.4" stroke="#444" stroke-width="1.2" />
<line x1="799.7" y1="1052.4" x2="794.7" y2="1052.4" stroke="#444" stroke-width="1.2" />
<line x1="109.1" y1="1039.4" x2="118.1" y2="1039.4" stroke="#444" stroke-width="1.2" />
<line x1="799.7" y1="1039.4" x2="790.7" y2="1039.4" stroke="#444" stroke-width="1.2" />
<line x1="109.1" y1="1026.4" x2="114.1" y2="1026.4" stroke="#444" stroke-width="1.2" />
<line x1="799.7" y1="1026.4" x2="794.7" y2="1026.4" stroke="#444" stroke-width="1.2" />
<line x1="109.1" y1="1013.39" x2="114.1" y2="1013.39" stroke="#444" stroke-width="1.2" />
<line x1="799.7" y1="1013.39" x2="794.7" y2="1013.39" stroke="#444" stroke-width="1.2" />
<line x1="109.1" y1="1000.39" x2="114.1" y2="1000.39" stroke="#444" stroke-width="1.2" />
<line x1="799.7" y1="1000.39" x2="794.7" y2="1000.39" stroke="#444" stroke-width="1.2" />
<line x1="109.1" y1="987.38" x2="114.1" y2="987.38" stroke="#444" stroke-width="1.2" />
<line x1="799.7" y1="987.38" x2="794.7" y2="987.38" stroke="#444" stroke-width="1.2" />
<line x1="109.1" y1="974.38" x2="118.1" y2="974.38" stroke="#444" stroke-width="1.2" />
<line x1="799.7" y1="974.38" x2="790.7" y2="974.38" stroke="#444" stroke-width="1.2" />
<line x1="109.1" y1="961.38" x2="114.1" y2="961.38" stroke="#444" stroke-width="1.2" />
<line x1="799.7" y1="961.38" x2="794.7" y2="961.38" stroke="#444" stroke-width="1.2" />
<line x1="109.1" y1="948.37" x2="114.1" y2="948.37" stroke="#444" stroke-width="1.2" />
<line x1="799.7" y1="948.37" x2="794.7" y2="948.37" stroke="#444" stroke-width="1.2" />
<line x1="109.1" y1="935.37" x2="114.1" y2="935.37" stroke="#444" stroke-width="1.2" />
<line x1="799.7" y1="935.37" x2="794.7" y2="935.37" stroke="#444" stroke-width="1.2" />
<line x1="109.1" y1="922.36" x2="114.1" y2="922.36" stroke="#444" stroke-width="1.2" />
<line x1="799.7" y1="922.36" x2="794.7" y2="922.36" stroke="#444" stroke-width="1.2" />
<line x1="109.1" y1="909.36" x2="118.1" y2="909.36" stroke="#444" stroke-width="1.2" />
<line x1="799.7" y1="909.36" x2="790.7" y2="909.36" stroke="#444" stroke-width="1.2" />
<line x1="109.1" y1="896.36" x2="114.1" y2="896.36" stroke="#444" stroke-width="1.2" />
<line x1="799.7" y1="896.36" x2="794.7" y2="896.36" stroke="#444" stroke-width="1.2" />
<line x1="109.1" y1="883.35" x2="114.1" y2="883.35" stroke="#444" stroke-width="1.2" />
<line x1="799.7" y1="883.35" x2="794.7" y2="883.35" stroke="#444" stroke-width="1.2" />
<line x1="109.1" y1="870.35" x2="114.1" y2="870.35" stroke="#444" stroke-width="1.2" />
<line x1="799.7" y1="870.35" x2="794.7" y2="870.35" stroke="#444" stroke-width="1.2" />
<line x1="109.1" y1="857.34" x2="114.1" y2="857.34" stroke="#444" stroke-width="1.2" />
<line x1="799.7" y1="857.34" x2="794.7" y2="857.34" stroke="#444" stroke-width="1.2" />
<line x1="109.1" y1="844.34" x2="118.1" y2="844.34" stroke="#444" stroke-width="1.2" />
<line x1="799.7" y1="844.34" x2="790.7" y2="844.34" stroke="#444" stroke-width="1.2" />
<line x1="109.1" y1="831.34" x2="114.1" y2="831.34" stroke="#444" stroke-width="1.2" />
<line x1="799.7" y1="831.34" x2="794.7" y2="831.34" stroke="#444" stroke-width="1.2" />
<line x1="109.1" y1="818.33" x2="114.1" y2="818.33" stroke="#444" stroke-width="1.2" />
<line x1="799.7" y1="818.33" x2="794.7" y2="818.33" stroke="#444" stroke-width="1.2" />
<line x1="109.1" y1="805.33" x2="114.1" y2="805.33" stroke="#444" stroke-width="1.2" />
<line x1="799.7" y1="805.33" x2="794.7" y2="805.33" stroke="#444" stroke-width="1.2" />
<line x1="109.1" y1="792.32" x2="114.1" y2="792.32" stroke="#444" stroke-width="1.2" />
<line x1="799.7" y1="792.32" x2="794.7" y2="792.32" stroke="#444" stroke-width="1.2" />
<line x1="109.1" y1="779.32" x2="118.1" y2="779.32" stroke="#444" stroke-width="1.2" />
<line x1="799.7" y1="779.32" x2="790.7" y2="779.32" stroke="#444" stroke-width="1.2" />
<line x1="109.1" y1="766.32" x2="114.1" y2="766.32" stroke="#444" stroke-width="1.2" />
<line x1="799.7" y1="766.32" x2="794.7" y2="766.32" stroke="#444" stroke-width="1.2" />
<line x1="109.1" y1="753.31" x2="114.1" y2="753.31" stroke="#444" stroke-width="1.2" />
<line x1="799.7" y1="753.31" x2="794.7" y2="753.31" stroke="#444" stroke-width="1.2" />
<line x1="109.1" y1="740.31" x2="114.1" y2="740.31" stroke="#444" stroke-width="1.2" />
<line x1="799.7" y1="740.31" x2="794.7" y2="740.31" stroke="#444" stroke-width="1.2" />
<line x1="109.1" y1="727.3" x2="114.1" y2="727.3" stroke="#444" stroke-width="1.2" />
<line x1="799.7" y1="727.3" x2="794.7" y2="727.3" stroke="#444" stroke-width="1.2" />
<line x1="109.1" y1="714.3" x2="118.1" y2="714.3" stroke="#444" stroke-width="1.2" />
<line x1="799.7" y1="714.3" x2="790.7" y2="714.3" stroke="#444" stroke-width="1.2" />
<line x1="109.1" y1="701.3" x2="114.1" y2="701.3" stroke="#444" stroke-width="1.2" />
<line x1="799.7" y1="701.3" x2="794.7" y2="701.3" stroke="#444" stroke-width="1.2" />
<line x1="109.1" y1="688.29" x2="114.1" y2="688.29" stroke="#444" stroke-width="1.2" />
<line x1="799.7" y1="688.29" x2="794.7" y2="688.29" stroke="#444" stroke-width="1.2" />
<line x1="109.1" y1="675.29" x2="114.1" y2="675.29" stroke="#444" stroke-width="1.2" />
<line x1="799.7" y1="675.29" x2="794.7" y2="675.29" stroke="#444" stroke-width="1.2" />
<line x1="109.1" y1="662.28" x2="114.1" y2="662.28" stroke="#444" stroke-width="1.2" />
<line x1="799.7" y1="662.28" x2="794.7" y2="662.28" stroke="#444" stroke-width="1.2" />
<line x1="109.1" y1="649.28" x2="118.1" y2="649.28" stroke="#444" stroke-width="1.2" />
<line x1="799.7" y1="649.28" x2="790.7" y2="649.28" stroke="#444" stroke-width="1.2" />
<line x1="109.1" y1="636.28" x2="114.1" y2="636.28" stroke="#444" stroke-width="1.2" />
<line x1="799.7" y1="636.28" x2="794.7" y2="636.28" stroke="#444" stroke-width="1.2" />
<circle cx="741.7" cy="649.28" r="4.75" fill="#000"/>
<circle cx="764.1" cy="649.28" r="4.75" fill="#000"/>
<circle cx="786.5" cy="649.28" r="4.75" fill="#d0d0d0"/>
<circle cx="674.5" cy="675.29" r="4.75" fill="#000"/>
<circle cx="696.9" cy="675.29" r="4.75" fill="#000"/>
<circle cx="719.3" cy="675.29" r="4.75" fill="#000"/>
<circle cx="741.7" cy="675.29" r="4.75" fill="#000"/>
<circle cx="764.1" cy="675.29" r="4.75" fill="#000"/>
<circle cx="786.5" cy="675.29" r="4.75" fill="#d0d0d0"/>
<circle cx="629.7" cy="701.3" r="4.75" fill="#000"/>
<circle cx="652.1" cy="701.3" r="4.75" fill="#000"/>
<circle cx="674.5" cy="701.3" r="4.75" fill="#000"/>
<circle cx="696.9" cy="701.3" r="4.75" fill="#000"/>
<circle cx="719.3" cy="701.3" r="4.75" fill="#000"/>
<circle cx="741.7" cy="701.3" r="4.75" fill="#000"/>
<circle cx="764.1" cy="701.3" r="4.75" fill="#000"/>
<circle cx="786.5" cy="701.3" r="4.75" fill="#d0d0d0"/>
<circle cx="584.9" cy="727.3" r="4.75" fill="#000"/>
<circle cx="607.3" cy="727.3" r="4.75" fill="#000"/>
<circle cx="629.7" cy="727.3" r="4.75" fill="#000"/>
<circle cx="652.1" cy="727.3" r="4.75" fill="#000"/>
<circle cx="674.5" cy="727.3" r="4.75" fill="#000"/>
<circle cx="696.9" cy="727.3" r="4.75" fill="#000"/>
<circle cx="719.3" cy="727.3" r="4.75" fill="#000"/>
<circle cx="741.7" cy="727.3" r="4.75" fill="#000"/>
<circle cx="764.1" cy="727.3" r="4.75" fill="#000"/>
<circle cx="786.5" cy="727.3" r="4.75" fill="#d0d0d0"/>
<circle cx="540.1" cy="753.31" r="4.75" fill="#000"/>
<circle cx="562.5" cy="753.31" r="4.75" fill="#000"/>
<circle cx="584.9" cy="753.31" r="4.75" fill="#000"/>
<circle cx="607.3" cy="753.31" r="4.75" fill="#000"/>
<circle cx="629.7" cy="753.31" r="4.75" fill="#000"/>
<circle cx="652.1" cy="753.31" r="4.75" fill="#000"/>
<circle cx="674.5" cy="753.31" r="4.75" fill="#000"/>
<circle cx="696.9" cy="753.31" r="4.75" fill="#000"/>
<circle cx="719.3" cy="753.31" r="4.75" fill="#000"/>
<circle cx="741.7" cy="753.31" r="4.75" fill="#000"/>
<circle cx="764.1" cy="753.31" r="4.75" fill="#000"/>
<circle cx="495.3" cy="779.32" r="4.75" fill="#000"/>
<circle cx="517.7" cy="779.32" r="4.75" fill="#000"/>
<circle cx="540.1" cy="779.32" r="4.75" fill="#000"/>
<circle cx="562.5" cy="779.32" r="4.75" fill="#000"/>
<circle cx="584.9" cy="779.32" r="4.75" fill="#000"/>
<circle cx="607.3" cy="779.32" r="4.75" fill="#000"/>
<circle cx="629.7" cy="779.32" r="4.75" fill="#000"/>
<circle cx="652.1" cy="779.32" r="4.75" fill="#000"/>
<circle cx="674.5" cy="779.32" r="4.75" fill="#000"/>
<circle cx="696.9" cy="779.32" r="4.75" fill="#000"/>
<circle cx="719.3" cy="779.32" r="4.75" fill="#000"/>
<circle cx="741.7" cy="779.32" r="4.75" fill="#000"/>
<circle cx="764.1" cy="779.32" r="4.75" fill="#d0d0d0"/>
<circle cx="450.5" cy="805.33" r="4.75" fill="#000"/>
<circle cx="472.9" cy="805.33" r="4.75" fill="#000"/>
<circle cx="495.3" cy="805.33" r="4.75" fill="#000"/>
<circle cx="517.7" cy="805.33" r="4.75" fill="#000"/>
<circle cx="540.1" cy="805.33" r="4.75" fill="#000"/>
<circle cx="562.5" cy="805.33" r="4.75" fill="#000"/>
<circle cx="584.9" cy="805.33" r="4.75" fill="#000"/>
<circle cx="607.3" cy="805.33" r="4.75" fill="#000"/>
<circle cx="629.7" cy="805.33" r="4.75" fill="#000"/>
<circle cx="652.1" cy="805.33" r="4.75" fill="#000"/>
<circle cx="674.5" cy="805.33" r="4.75" fill="#000"/>
<circle cx="696.9" cy="805.33" r="4.75" fill="#000"/>
<circle cx="719.3" cy="805.33" r="4.75" fill="#000"/>
<circle cx="741.7" cy="805.33" r="4.75" fill="#000"/>
<circle cx="405.7" cy="831.34" r="4.75" fill="#000"/>
<circle cx="428.1" cy="831.34" r="4.75" fill="#000"/>
<circle cx="450.5" cy="831.34" r="4.75" fill="#000"/>
<circle cx="472.9" cy="831.34" r="4.75" fill="#000"/>
<circle cx="495.3" cy="831.34" r="4.75" fill="#000"/>
<circle cx="517.7" cy="831.34" r="4.75" fill="#000"/>
<circle cx="540.1" cy="831.34" r="4.75" fill="#000"/>
<circle cx="562.5" cy="831.34" r="4.75" fill="#000"/>
<circle cx="584.9" cy="831.34" r="4.75" fill="#000"/>
<circle cx="607.3" cy="831.34" r="4.75" fill="#000"/>
<circle cx="629.7" cy="831.34" r="4.75" fill="#000"/>
<circle cx="652.1" cy="831.34" r="4.75" fill="#000"/>
<circle cx="674.5" cy="831.34" r="4.75" fill="#000"/>
<circle cx="696.9" cy="831.34" r="4.75" fill="#000"/>
<circle cx="719.3" cy="831.34" r="4.75" fill="#000"/>
<circle cx="741.7" cy="831.34" r="4.75" fill="#d0d0d0"/>
<circle cx="383.3" cy="844.34" r="4.75" fill="#000"/>
<circle cx="405.7" cy="844.34" r="4.75" fill="#000"/>
<circle cx="428.1" cy="844.34" r="4.75" fill="#000"/>
<circle cx="450.5" cy="844.34" r="4.75" fill="#000"/>
<circle cx="472.9" cy="844.34" r="4.75" fill="#000"/>
<circle cx="495.3" cy="844.34" r="4.75" fill="#000"/>
<circle cx="517.7" cy="844.34" r="4.75" fill="#000"/>
<circle cx="540.1" cy="844.34" r="4.75" fill="#000"/>
<circle cx="562.5" cy="844.34" r="4.75" fill="#000"/>
<circle cx="584.9" cy="844.34" r="4.75" fill="#000"/>
<circle cx="607.3" cy="844.34" r="4.75" fill="#000"/>
<circle cx="629.7" cy="844.34" r="4.75" fill="#000"/>
<circle cx="652.1" cy="844.34" r="4.75" fill="#000"/>
<circle cx="674.5" cy="844.34" r="4.75" fill="#000"/>
<circle cx="696.9" cy="844.34" r="4.75" fill="#000"/>
<circle cx="719.3" cy="844.34" r="4.75" fill="#000"/>
<circle cx="741.7" cy="844.34" r="4.75" fill="#d0d0d0"/>
<circle cx="360.9" cy="857.34" r="4.75" fill="#000"/>
<circle cx="383.3" cy="857.34" r="4.75" fill="#000"/>
<circle cx="405.7" cy="857.34" r="4.75" fill="#000"/>
<circle cx="428.1" cy="857.34" r="4.75" fill="#000"/>
<circle cx="450.5" cy="857.34" r="4.75" fill="#000"/>
<circle cx="472.9" cy="857.34" r="4.75" fill="#000"/>
<circle cx="495.3" cy="857.34" r="4.75" fill="#000"/>
<circle cx="517.7" cy="857.34" r="4.75" fill="#000"/>
<circle cx="540.1" cy="857.34" r="4.75" fill="#000"/>
<circle cx="562.5" cy="857.34" r="4.75" fill="#000"/>
<circle cx="584.9" cy="857.34" r="4.75" fill="#000"/>
<circle cx="607.3" cy="857.34" r="4.75" fill="#000"/>
<circle cx="629.7" cy="857.34" r="4.75" fill="#000"/>
<circle cx="652.1" cy="857.34" r="4.75" fill="#000"/>
<circle cx="674.5" cy="857.34" r="4.75" fill="#000"/>
<circle cx="696.9" cy="857.34" r="4.75" fill="#000"/>
<circle cx="719.3" cy="857.34" r="4.75" fill="#000"/>
<circle cx="741.7" cy="857.34" r="4.75" fill="#d0d0d0"/>
<circle cx="316.1" cy="883.35" r="4.75" fill="#000"/>
<circle cx="338.5" cy="883.35" r="4.75" fill="#000"/>
<circle cx="360.9" cy="883.35" r="4.75" fill="#000"/>
<circle cx="383.3" cy="883.35" r="4.75" fill="#000"/>
<circle cx="405.7" cy="883.35" r="4.75" fill="#000"/>
<circle cx="428.1" cy="883.35" r="4.75" fill="#000"/>
<circle cx="450.5" cy="883.35" r="4.75" fill="#000"/>
<circle cx="472.9" cy="883.35" r="4.75" fill="#000"/>
<circle cx="495.3" cy="883.35" r="4.75" fill="#000"/>
<circle cx="517.7" cy="883.35" r="4.75" fill="#000"/>
<circle cx="540.1" cy="883.35" r="4.75" fill="#000"/>
<circle cx="562.5" cy="883.35" r="4.75" fill="#000"/>
<circle cx="584.9" cy="883.35" r="4.75" fill="#000"/>
<circle cx="607.3" cy="883.35" r="4.75" fill="#000"/>
<circle cx="629.7" cy="883.35" r="4.75" fill="#000"/>
<circle cx="652.1" cy="883.35" r="4.75" fill="#000"/>
<circle cx="674.5" cy="883.35" r="4.75" fill="#000"/>
<circle cx="696.9" cy="883.35" r="4.75" fill="#000"/>
<circle cx="719.3" cy="883.35" r="4.75" fill="#d0d0d0"/>
<circle cx="271.3" cy="909.36" r="4.75" fill="#000"/>
<circle cx="293.7" cy="909.36" r="4.75" fill="#000"/>
<circle cx="316.1" cy="909.36" r="4.75" fill="#000"/>
<circle cx="338.5" cy="909.36" r="4.75" fill="#000"/>
<circle cx="360.9" cy="909.36" r="4.75" fill="#000"/>
<circle cx="383.3" cy="909.36" r="4.75" fill="#000"/>
<circle cx="405.7" cy="909.36" r="4.75" fill="#000"/>
<circle cx="428.1" cy="909.36" r="4.75" fill="#000"/>
<circle cx="450.5" cy="909.36" r="4.75" fill="#000"/>
<circle cx="472.9" cy="909.36" r="4.75" fill="#000"/>
<circle cx="495.3" cy="909.36" r="4.75" fill="#000"/>
<circle cx="517.7" cy="909.36" r="4.75" fill="#000"/>
<circle cx="540.1" cy="909.36" r="4.75" fill="#000"/>
<circle cx="562.5" cy="909.36" r="4.75" fill="#000"/>
<circle cx="584.9" cy="909.36" r="4.75" fill="#000"/>
<circle cx="607.3" cy="909.36" r="4.75" fill="#000"/>
<circle cx="629.7" cy="909.36" r="4.75" fill="#000"/>
<circle cx="652.1" cy="909.36" r="4.75" fill="#000"/>
<circle cx="674.5" cy="909.36" r="4.75" fill="#000"/>
<circle cx="696.9" cy="909.36" r="4.75" fill="#d0d0d0"/>
<circle cx="226.5" cy="935.37" r="4.75" fill="#000"/>
<circle cx="248.9" cy="935.37" r="4.75" fill="#000"/>
<circle cx="271.3" cy="935.37" r="4.75" fill="#000"/>
<circle cx="293.7" cy="935.37" r="4.75" fill="#000"/>
<circle cx="316.1" cy="935.37" r="4.75" fill="#000"/>
<circle cx="338.5" cy="935.37" r="4.75" fill="#000"/>
<circle cx="360.9" cy="935.37" r="4.75" fill="#000"/>
<circle cx="383.3" cy="935.37" r="4.75" fill="#000"/>
<circle cx="405.7" cy="935.37" r="4.75" fill="#000"/>
<circle cx="428.1" cy="935.37" r="4.75" fill="#000"/>
<circle cx="450.5" cy="935.37" r="4.75" fill="#000"/>
<circle cx="472.9" cy="935.37" r="4.75" fill="#000"/>
<circle cx="495.3" cy="935.37" r="4.75" fill="#000"/>
<circle cx="517.7" cy="935.37" r="4.75" fill="#000"/>
<circle cx="540.1" cy="935.37" r="4.75" fill="#000"/>
<circle cx="562.5" cy="935.37" r="4.75" fill="#000"/>
<circle cx="584.9" cy="935.37" r="4.75" fill="#000"/>
<circle cx="607.3" cy="935.37" r="4.75" fill="#000"/>
<circle cx="629.7" cy="935.37" r="4.75" fill="#000"/>
<circle cx="652.1" cy="935.37" r="4.75" fill="#000"/>
<circle cx="674.5" cy="935.37" r="4.75" fill="#d0d0d0"/>
<circle cx="181.7" cy="961.38" r="4.75" fill="#000"/>
<circle cx="204.1" cy="961.38" r="4.75" fill="#000"/>
<circle cx="226.5" cy="961.38" r="4.75" fill="#000"/>
<circle cx="248.9" cy="961.38" r="4.75" fill="#000"/>
<circle cx="271.3" cy="961.38" r="4.75" fill="#000"/>
<circle cx="293.7" cy="961.38" r="4.75" fill="#000"/>
<circle cx="316.1" cy="961.38" r="4.75" fill="#000"/>
<circle cx="338.5" cy="961.38" r="4.75" fill="#000"/>
<circle cx="360.9" cy="961.38" r="4.75" fill="#000"/>
<circle cx="383.3" cy="961.38" r="4.75" fill="#000"/>
<circle cx="405.7" cy="961.38" r="4.75" fill="#000"/>
<circle cx="428.1" cy="961.38" r="4.75" fill="#000"/>
<circle cx="450.5" cy="961.38" r="4.75" fill="#000"/>
<circle cx="472.9" cy="961.38" r="4.75" fill="#000"/>
<circle cx="495.3" cy="961.38" r="4.75" fill="#000"/>
<circle cx="517.7" cy="961.38" r="4.75" fill="#000"/>
<circle cx="540.1" cy="961.38" r="4.75" fill="#000"/>
<circle cx="562.5" cy="961.38" r="4.75" fill="#000"/>
<circle cx="584.9" cy="961.38" r="4.75" fill="#000"/>
<circle cx="607.3" cy="961.38" r="4.75" fill="#000"/>
<circle cx="629.7" cy="961.38" r="4.75" fill="#000"/>
<circle cx="652.1" cy="961.38" r="4.75" fill="#000"/>
<circle cx="136.9" cy="987.38" r="4.75" fill="#000"/>
<circle cx="159.3" cy="987.38" r="4.75" fill="#000"/>
<circle cx="181.7" cy="987.38" r="4.75" fill="#000"/>
<circle cx="204.1" cy="987.38" r="4.75" fill="#000"/>
<circle cx="226.5" cy="987.38" r="4.75" fill="#000"/>
<circle cx="248.9" cy="987.38" r="4.75" fill="#000"/>
<circle cx="271.3" cy="987.38" r="4.75" fill="#000"/>
<circle cx="293.7" cy="987.38" r="4.75" fill="#000"/>
<circle cx="316.1" cy="987.38" r="4.75" fill="#000"/>
<circle cx="338.5" cy="987.38" r="4.75" fill="#000"/>
<circle cx="360.9" cy="987.38" r="4.75" fill="#000"/>
<circle cx="383.3" cy="987.38" r="4.75" fill="#000"/>
<circle cx="405.7" cy="987.38" r="4.75" fill="#000"/>
<circle cx="428.1" cy="987.38" r="4.75" fill="#000"/>
<circle cx="450.5" cy="987.38" r="4.75" fill="#000"/>
<circle cx="472.9" cy="987.38" r="4.75" fill="#000"/>
<circle cx="495.3" cy="987.38" r="4.75" fill="#000"/>
<circle cx="517.7" cy="987.38" r="4.75" fill="#000"/>
<circle cx="540.1" cy="987.38" r="4.75" fill="#000"/>
<circle cx="562.5" cy="987.38" r="4.75" fill="#000"/>
<circle cx="584.9" cy="987.38" r="4.75" fill="#000"/>
<circle cx="607.3" cy="987.38" r="4.75" fill="#000"/>
<circle cx="181.7" cy="1013.39" r="4.75" fill="#000"/>
<circle cx="204.1" cy="1013.39" r="4.75" fill="#000"/>
<circle cx="226.5" cy="1013.39" r="4.75" fill="#000"/>
<circle cx="248.9" cy="1013.39" r="4.75" fill="#000"/>
<circle cx="271.3" cy="1013.39" r="4.75" fill="#000"/>
<circle cx="293.7" cy="1013.39" r="4.75" fill="#000"/>
<circle cx="316.1" cy="1013.39" r="4.75" fill="#000"/>
<circle cx="338.5" cy="1013.39" r="4.75" fill="#000"/>
<circle cx="360.9" cy="1013.39" r="4.75" fill="#000"/>
<circle cx="383.3" cy="1013.39" r="4.75" fill="#000"/>
<circle cx="405.7" cy="1013.39" r="4.75" fill="#000"/>
<circle cx="428.1" cy="1013.39" r="4.75" fill="#000"/>
<circle cx="450.5" cy="1013.39" r="4.75" fill="#000"/>
<circle cx="472.9" cy="1013.39" r="4.75" fill="#000"/>
<circle cx="495.3" cy="1013.39" r="4.75" fill="#000"/>
<circle cx="517.7" cy="1013.39" r="4.75" fill="#000"/>
<circle cx="540.1" cy="1013.39" r="4.75" fill="#000"/>
<circle cx="562.5" cy="1013.39" r="4.75" fill="#000"/>
<text x="101" y="1050.7" font-size="32" text-anchor="end" >60</text>
<text x="101" y="985.68" font-size="32" text-anchor="end" >70</text>
<text x="101" y="920.66" font-size="32" text-anchor="end" >80</text>
<text x="101" y="855.64" font-size="32" text-anchor="end" >90</text>
<text x="101" y="790.62" font-size="32" text-anchor="end" >100</text>
<text x="101" y="725.6" font-size="32" text-anchor="end" >110</text>
<text x="101" y="660.58" font-size="32" text-anchor="end" >120</text>
<text x="198.5" y="1095" font-size="32" text-anchor="middle" >40</text>
<text x="310.5" y="1095" font-size="32" text-anchor="middle" >60</text>
<text x="422.5" y="1095" font-size="32" text-anchor="middle" >80</text>
<text x="534.5" y="1095" font-size="32" text-anchor="middle" >100</text>
<text x="646.5" y="1095" font-size="32" text-anchor="middle" >120</text>
<text x="758.5" y="1095" font-size="32" text-anchor="middle" >140</text>
<text x="453.7" y="1152" font-size="33.4" text-anchor="middle" >time[DOY]</text>
<circle cx="136.4" cy="737" r="4.8" fill="#000"/>
<text x="169.6" y="744" font-size="46.6" text-anchor="start" >differences &gt; 5%</text>
<text x="23.3" y="841.75" font-size="33" text-anchor="middle" transform="rotate(-90 23.3 841.75)" ><tspan font-style="italic">ε</tspan><tspan font-size="24" dy="6">FOV</tspan><tspan dy="-6">[deg]</tspan></text>
<rect x="910.6" y="628" width="699.9999999999999" height="432.29999999999995" fill="none" stroke="#444" stroke-width="1.3"/>
<line x1="916.09" y1="1060.3" x2="916.09" y2="1055.3" stroke="#444" stroke-width="1.2" />
<line x1="916.09" y1="628" x2="916.09" y2="633" stroke="#444" stroke-width="1.2" />
<line x1="944.56" y1="1060.3" x2="944.56" y2="1055.3" stroke="#444" stroke-width="1.2" />
<line x1="944.56" y1="628" x2="944.56" y2="633" stroke="#444" stroke-width="1.2" />
<line x1="973.03" y1="1060.3" x2="973.03" y2="1055.3" stroke="#444" stroke-width="1.2" />
<line x1="973.03" y1="628" x2="973.03" y2="633" stroke="#444" stroke-width="1.2" />
<line x1="1001.5" y1="1060.3" x2="1001.5" y2="1051.3" stroke="#444" stroke-width="1.2" />
<line x1="1001.5" y1="628" x2="1001.5" y2="637" stroke="#444" stroke-width="1.2" />
<line x1="1029.97" y1="1060.3" x2="1029.97" y2="1055.3" stroke="#444" stroke-width="1.2" />
<line x1="1029.97" y1="628" x2="1029.97" y2="633" stroke="#444" stroke-width="1.2" />
<line x1="1058.44" y1="1060.3" x2="1058.44" y2="1055.3" stroke="#444" stroke-width="1.2" />
<line x1="1058.44" y1="628" x2="1058.44" y2="633" stroke="#444" stroke-width="1.2" />
<line x1="1086.91" y1="1060.3" x2="1086.91" y2="1055.3" stroke="#444" stroke-width="1.2" />
<line x1="1086.91" y1="628" x2="1086.91" y2="633" stroke="#444" stroke-width="1.2" />
<line x1="1115.38" y1="1060.3" x2="1115.38" y2="1051.3" stroke="#444" stroke-width="1.2" />
<line x1="1115.38" y1="628" x2="1115.38" y2="637" stroke="#444" stroke-width="1.2" />
<line x1="1143.85" y1="1060.3" x2="1143.85" y2="1055.3" stroke="#444" stroke-width="1.2" />
<line x1="1143.85" y1="628" x2="1143.85" y2="633" stroke="#444" stroke-width="1.2" />
<line x1="1172.32" y1="1060.3" x2="1172.32" y2="1055.3" stroke="#444" stroke-width="1.2" />
<line x1="1172.32" y1="628" x2="1172.32" y2="633" stroke="#444" stroke-width="1.2" />
<line x1="1200.79" y1="1060.3" x2="1200.79" y2="1055.3" stroke="#444" stroke-width="1.2" />
<line x1="1200.79" y1="628" x2="1200.79" y2="633" stroke="#444" stroke-width="1.2" />
<line x1="1229.26" y1="1060.3" x2="1229.26" y2="1051.3" stroke="#444" stroke-width="1.2" />
<line x1="1229.26" y1="628" x2="1229.26" y2="637" stroke="#444" stroke-width="1.2" />
<line x1="1257.73" y1="1060.3" x2="1257.73" y2="1055.3" stroke="#444" stroke-width="1.2" />
<line x1="1257.73" y1="628" x2="1257.73" y2="633" stroke="#444" stroke-width="1.2" />
<line x1="1286.2" y1="1060.3" x2="1286.2" y2="1055.3" stroke="#444" stroke-width="1.2" />
<line x1="1286.2" y1="628" x2="1286.2" y2="633" stroke="#444" stroke-width="1.2" />
<line x1="1314.67" y1="1060.3" x2="1314.67" y2="1055.3" stroke="#444" stroke-width="1.2" />
<line x1="1314.67" y1="628" x2="1314.67" y2="633" stroke="#444" stroke-width="1.2" />
<line x1="1343.14" y1="1060.3" x2="1343.14" y2="1051.3" stroke="#444" stroke-width="1.2" />
<line x1="1343.14" y1="628" x2="1343.14" y2="637" stroke="#444" stroke-width="1.2" />
<line x1="1371.61" y1="1060.3" x2="1371.61" y2="1055.3" stroke="#444" stroke-width="1.2" />
<line x1="1371.61" y1="628" x2="1371.61" y2="633" stroke="#444" stroke-width="1.2" />
<line x1="1400.08" y1="1060.3" x2="1400.08" y2="1055.3" stroke="#444" stroke-width="1.2" />
<line x1="1400.08" y1="628" x2="1400.08" y2="633" stroke="#444" stroke-width="1.2" />
<line x1="1428.55" y1="1060.3" x2="1428.55" y2="1055.3" stroke="#444" stroke-width="1.2" />
<line x1="1428.55" y1="628" x2="1428.55" y2="633" stroke="#444" stroke-width="1.2" />
<line x1="1457.02" y1="1060.3" x2="1457.02" y2="1051.3" stroke="#444" stroke-width="1.2" />
<line x1="1457.02" y1="628" x2="1457.02" y2="637" stroke="#444" stroke-width="1.2" />
<line x1="1485.49" y1="1060.3" x2="1485.49" y2="1055.3" stroke="#444" stroke-width="1.2" />
<line x1="1485.49" y1="628" x2="1485.49" y2="633" stroke="#444" stroke-width="1.2" />
<line x1="1513.96" y1="1060.3" x2="1513.96" y2="1055.3" stroke="#444" stroke-width="1.2" />
<line x1="1513.96" y1="628" x2="1513.96" y2="633" stroke="#444" stroke-width="1.2" />
<line x1="1542.43" y1="1060.3" x2="1542.43" y2="1055.3" stroke="#444" stroke-width="1.2" />
<line x1="1542.43" y1="628" x2="1542.43" y2="633" stroke="#444" stroke-width="1.2" />
<line x1="1570.9" y1="1060.3" x2="1570.9" y2="1051.3" stroke="#444" stroke-width="1.2" />
<line x1="1570.9" y1="628" x2="1570.9" y2="637" stroke="#444" stroke-width="1.2" />
<line x1="1599.37" y1="1060.3" x2="1599.37" y2="1055.3" stroke="#444" stroke-width="1.2" />
<line x1="1599.37" y1="628" x2="1599.37" y2="633" stroke="#444" stroke-width="1.2" />
<line x1="910.6" y1="1052.1" x2="919.6" y2="1052.1" stroke="#444" stroke-width="1.2" />
<line x1="1610.6" y1="1052.1" x2="1601.6" y2="1052.1" stroke="#444" stroke-width="1.2" />
<line x1="910.6" y1="1026.7" x2="915.6" y2="1026.7" stroke="#444" stroke-width="1.2" />
<line x1="1610.6" y1="1026.7" x2="1605.6" y2="1026.7" stroke="#444" stroke-width="1.2" />
<line x1="910.6" y1="1001.31" x2="915.6" y2="1001.31" stroke="#444" stroke-width="1.2" />
<line x1="1610.6" y1="1001.31" x2="1605.6" y2="1001.31" stroke="#444" stroke-width="1.2" />
<line x1="910.6" y1="975.91" x2="915.6" y2="975.91" stroke="#444" stroke-width="1.2" />
<line x1="1610.6" y1="975.91" x2="1605.6" y2="975.91" stroke="#444" stroke-width="1.2" />
<line x1="910.6" y1="950.52" x2="919.6" y2="950.52" stroke="#444" stroke-width="1.2" />
<line x1="1610.6" y1="950.52" x2="1601.6" y2="950.52" stroke="#444" stroke-width="1.2" />
<line x1="910.6" y1="925.12" x2="915.6" y2="925.12" stroke="#444" stroke-width="1.2" />
<line x1="1610.6" y1="925.12" x2="1605.6" y2="925.12" stroke="#444" stroke-width="1.2" />
<line x1="910.6" y1="899.73" x2="915.6" y2="899.73" stroke="#444" stroke-width="1.2" />
<line x1="1610.6" y1="899.73" x2="1605.6" y2="899.73" stroke="#444" stroke-width="1.2" />
<line x1="910.6" y1="874.33" x2="915.6" y2="874.33" stroke="#444" stroke-width="1.2" />
<line x1="1610.6" y1="874.33" x2="1605.6" y2="874.33" stroke="#444" stroke-width="1.2" />
<line x1="910.6" y1="848.94" x2="919.6" y2="848.94" stroke="#444" stroke-width="1.2" />
<line x1="1610.6" y1="848.94" x2="1601.6" y2="848.94" stroke="#444" stroke-width="1.2" />
<line x1="910.6" y1="823.54" x2="915.6" y2="823.54" stroke="#444" stroke-width="1.2" />
<line x1="1610.6" y1="823.54" x2="1605.6" y2="823.54" stroke="#444" stroke-width="1.2" />
<line x1="910.6" y1="798.15" x2="915.6" y2="798.15" stroke="#444" stroke-width="1.2" />
<line x1="1610.6" y1="798.15" x2="1605.6" y2="798.15" stroke="#444" stroke-width="1.2" />
<line x1="910.6" y1="772.75" x2="915.6" y2="772.75" stroke="#444" stroke-width="1.2" />
<line x1="1610.6" y1="772.75" x2="1605.6" y2="772.75" stroke="#444" stroke-width="1.2" />
<line x1="910.6" y1="747.36" x2="919.6" y2="747.36" stroke="#444" stroke-width="1.2" />
<line x1="1610.6" y1="747.36" x2="1601.6" y2="747.36" stroke="#444" stroke-width="1.2" />
<line x1="910.6" y1="721.96" x2="915.6" y2="721.96" stroke="#444" stroke-width="1.2" />
<line x1="1610.6" y1="721.96" x2="1605.6" y2="721.96" stroke="#444" stroke-width="1.2" />
<line x1="910.6" y1="696.57" x2="915.6" y2="696.57" stroke="#444" stroke-width="1.2" />
<line x1="1610.6" y1="696.57" x2="1605.6" y2="696.57" stroke="#444" stroke-width="1.2" />
<line x1="910.6" y1="671.17" x2="915.6" y2="671.17" stroke="#444" stroke-width="1.2" />
<line x1="1610.6" y1="671.17" x2="1605.6" y2="671.17" stroke="#444" stroke-width="1.2" />
<line x1="910.6" y1="645.78" x2="919.6" y2="645.78" stroke="#444" stroke-width="1.2" />
<line x1="1610.6" y1="645.78" x2="1601.6" y2="645.78" stroke="#444" stroke-width="1.2" />
<circle cx="938.87" cy="890.1" r="4.8" fill="#000"/>
<circle cx="961.64" cy="888.8" r="4.8" fill="#000"/>
<circle cx="984.42" cy="871.9" r="4.8" fill="#000"/>
<circle cx="984.42" cy="881.6" r="4.8" fill="#000"/>
<circle cx="984.42" cy="889.9" r="4.8" fill="#000"/>
<circle cx="1007.19" cy="864.4" r="4.8" fill="#000"/>
<circle cx="1007.19" cy="873" r="4.8" fill="#000"/>
<circle cx="1007.19" cy="879.8" r="4.8" fill="#000"/>
<circle cx="1029.97" cy="848.6" r="4.8" fill="#000"/>
<circle cx="1029.97" cy="856.2" r="4.8" fill="#000"/>
<circle cx="1029.97" cy="863" r="4.8" fill="#000"/>
<circle cx="1029.97" cy="868.6" r="4.8" fill="#000"/>
<circle cx="1052.75" cy="840.3" r="4.8" fill="#000"/>
<circle cx="1052.75" cy="845.9" r="4.8" fill="#000"/>
<circle cx="1052.75" cy="851.4" r="4.8" fill="#000"/>
<circle cx="1052.75" cy="857" r="4.8" fill="#000"/>
<circle cx="1075.52" cy="827.1" r="4.8" fill="#000"/>
<circle cx="1075.52" cy="831.5" r="4.8" fill="#000"/>
<circle cx="1075.52" cy="835.9" r="4.8" fill="#000"/>
<circle cx="1075.52" cy="840.3" r="4.8" fill="#000"/>
<circle cx="1075.52" cy="845.3" r="4.8" fill="#000"/>
<circle cx="1098.3" cy="817.7" r="4.8" fill="#000"/>
<circle cx="1098.3" cy="821.5" r="4.8" fill="#000"/>
<circle cx="1098.3" cy="825.4" r="4.8" fill="#000"/>
<circle cx="1098.3" cy="829.3" r="4.8" fill="#000"/>
<circle cx="1098.3" cy="833.7" r="4.8" fill="#000"/>
<circle cx="1121.07" cy="806.8" r="4.8" fill="#000"/>
<circle cx="1121.07" cy="809.8" r="4.8" fill="#000"/>
<circle cx="1121.07" cy="812.8" r="4.8" fill="#000"/>
<circle cx="1121.07" cy="815.5" r="4.8" fill="#000"/>
<circle cx="1121.07" cy="818" r="4.8" fill="#000"/>
<circle cx="1121.07" cy="828" r="4.8" fill="#000"/>
<circle cx="1143.85" cy="795.8" r="4.8" fill="#000"/>
<circle cx="1143.85" cy="798.5" r="4.8" fill="#000"/>
<circle cx="1143.85" cy="801.2" r="4.8" fill="#000"/>
<circle cx="1143.85" cy="810.6" r="4.8" fill="#000"/>
<circle cx="1143.85" cy="818.9" r="4.8" fill="#000"/>
<circle cx="1166.63" cy="783.8" r="4.8" fill="#000"/>
<circle cx="1166.63" cy="789.3" r="4.8" fill="#000"/>
<circle cx="1166.63" cy="793.8" r="4.8" fill="#000"/>
<circle cx="1166.63" cy="798.3" r="4.8" fill="#000"/>
<circle cx="1166.63" cy="803.9" r="4.8" fill="#000"/>
<circle cx="1166.63" cy="810" r="4.8" fill="#000"/>
<circle cx="1189.4" cy="777.1" r="4.8" fill="#000"/>
<circle cx="1189.4" cy="782.6" r="4.8" fill="#000"/>
<circle cx="1189.4" cy="788.2" r="4.8" fill="#000"/>
<circle cx="1189.4" cy="792.7" r="4.8" fill="#000"/>
<circle cx="1189.4" cy="797.2" r="4.8" fill="#000"/>
<circle cx="1189.4" cy="802.7" r="4.8" fill="#000"/>
<circle cx="1212.18" cy="768.1" r="4.8" fill="#000"/>
<circle cx="1212.18" cy="772.6" r="4.8" fill="#000"/>
<circle cx="1212.18" cy="777.1" r="4.8" fill="#000"/>
<circle cx="1212.18" cy="781.5" r="4.8" fill="#000"/>
<circle cx="1212.18" cy="786" r="4.8" fill="#000"/>
<circle cx="1212.18" cy="789.3" r="4.8" fill="#000"/>
<circle cx="1212.18" cy="798.8" r="4.8" fill="#000"/>
<circle cx="1234.95" cy="758.1" r="4.8" fill="#000"/>
<circle cx="1234.95" cy="762.5" r="4.8" fill="#000"/>
<circle cx="1234.95" cy="767" r="4.8" fill="#000"/>
<circle cx="1234.95" cy="772.6" r="4.8" fill="#000"/>
<circle cx="1234.95" cy="783.2" r="4.8" fill="#000"/>
<circle cx="1234.95" cy="792.7" r="4.8" fill="#000"/>
<circle cx="1257.73" cy="746.9" r="4.8" fill="#000"/>
<circle cx="1257.73" cy="751.4" r="4.8" fill="#000"/>
<circle cx="1257.73" cy="757" r="4.8" fill="#000"/>
<circle cx="1257.73" cy="761.4" r="4.8" fill="#000"/>
<circle cx="1257.73" cy="767" r="4.8" fill="#000"/>
<circle cx="1257.73" cy="772.6" r="4.8" fill="#000"/>
<circle cx="1257.73" cy="778.2" r="4.8" fill="#000"/>
<circle cx="1257.73" cy="787.1" r="4.8" fill="#000"/>
<circle cx="1280.51" cy="734.6" r="4.8" fill="#000"/>
<circle cx="1280.51" cy="739.1" r="4.8" fill="#000"/>
<circle cx="1280.51" cy="744.7" r="4.8" fill="#000"/>
<circle cx="1280.51" cy="750.3" r="4.8" fill="#000"/>
<circle cx="1280.51" cy="761.4" r="4.8" fill="#000"/>
<circle cx="1280.51" cy="777.6" r="4.8" fill="#000"/>
<circle cx="1280.51" cy="782.1" r="4.8" fill="#000"/>
<circle cx="1303.28" cy="724" r="4.8" fill="#000"/>
<circle cx="1303.28" cy="729" r="4.8" fill="#000"/>
<circle cx="1303.28" cy="734.6" r="4.8" fill="#000"/>
<circle cx="1303.28" cy="740.2" r="4.8" fill="#000"/>
<circle cx="1303.28" cy="745.8" r="4.8" fill="#000"/>
<circle cx="1303.28" cy="751.4" r="4.8" fill="#000"/>
<circle cx="1303.28" cy="756.4" r="4.8" fill="#000"/>
<circle cx="1303.28" cy="769.2" r="4.8" fill="#000"/>
<circle cx="1303.28" cy="777.1" r="4.8" fill="#000"/>
<circle cx="1326.06" cy="715" r="4.8" fill="#000"/>
<circle cx="1326.06" cy="718.8" r="4.8" fill="#000"/>
<circle cx="1326.06" cy="722.5" r="4.8" fill="#000"/>
<circle cx="1326.06" cy="727.3" r="4.8" fill="#000"/>
<circle cx="1326.06" cy="739.1" r="4.8" fill="#000"/>
<circle cx="1326.06" cy="755.6" r="4.8" fill="#000"/>
<circle cx="1326.06" cy="765.5" r="4.8" fill="#000"/>
<circle cx="1326.06" cy="770.7" r="4.8" fill="#000"/>
<circle cx="1348.83" cy="704.6" r="4.8" fill="#000"/>
<circle cx="1348.83" cy="709.3" r="4.8" fill="#000"/>
<circle cx="1348.83" cy="713.1" r="4.8" fill="#000"/>
<circle cx="1348.83" cy="723.5" r="4.8" fill="#000"/>
<circle cx="1348.83" cy="734.3" r="4.8" fill="#000"/>
<circle cx="1348.83" cy="745.2" r="4.8" fill="#000"/>
<circle cx="1348.83" cy="750.4" r="4.8" fill="#000"/>
<circle cx="1348.83" cy="761.3" r="4.8" fill="#000"/>
<circle cx="1348.83" cy="766.5" r="4.8" fill="#000"/>
<circle cx="1371.61" cy="695.6" r="4.8" fill="#000"/>
<circle cx="1371.61" cy="700.3" r="4.8" fill="#000"/>
<circle cx="1371.61" cy="705" r="4.8" fill="#000"/>
<circle cx="1371.61" cy="710.2" r="4.8" fill="#000"/>
<circle cx="1371.61" cy="717.3" r="4.8" fill="#000"/>
<circle cx="1371.61" cy="732" r="4.8" fill="#000"/>
<circle cx="1371.61" cy="746.2" r="4.8" fill="#000"/>
<circle cx="1371.61" cy="754.7" r="4.8" fill="#000"/>
<circle cx="1371.61" cy="758.9" r="4.8" fill="#000"/>
<circle cx="1394.39" cy="689.5" r="4.8" fill="#000"/>
<circle cx="1394.39" cy="695.1" r="4.8" fill="#000"/>
<circle cx="1394.39" cy="701.3" r="4.8" fill="#000"/>
<circle cx="1394.39" cy="712.6" r="4.8" fill="#000"/>
<circle cx="1394.39" cy="716.4" r="4.8" fill="#000"/>
<circle cx="1394.39" cy="729.6" r="4.8" fill="#000"/>
<circle cx="1394.39" cy="741" r="4.8" fill="#000"/>
<circle cx="1394.39" cy="749" r="4.8" fill="#000"/>
<circle cx="1394.39" cy="771.2" r="4.8" fill="#000"/>
<circle cx="1417.16" cy="686.1" r="4.8" fill="#000"/>
<circle cx="1417.16" cy="696.5" r="4.8" fill="#000"/>
<circle cx="1417.16" cy="702.2" r="4.8" fill="#000"/>
<circle cx="1417.16" cy="712.6" r="4.8" fill="#000"/>
<circle cx="1417.16" cy="725.4" r="4.8" fill="#000"/>
<circle cx="1417.16" cy="735.8" r="4.8" fill="#000"/>
<circle cx="1417.16" cy="742.9" r="4.8" fill="#000"/>
<circle cx="1417.16" cy="756.6" r="4.8" fill="#000"/>
<circle cx="1439.94" cy="680.1" r="4.8" fill="#000"/>
<circle cx="1439.94" cy="685.8" r="4.8" fill="#000"/>
<circle cx="1439.94" cy="691.4" r="4.8" fill="#000"/>
<circle cx="1439.94" cy="708.4" r="4.8" fill="#000"/>
<circle cx="1439.94" cy="712" r="4.8" fill="#000"/>
<circle cx="1439.94" cy="719.8" r="4.8" fill="#000"/>
<circle cx="1439.94" cy="729.6" r="4.8" fill="#000"/>
<circle cx="1439.94" cy="741.2" r="4.8" fill="#000"/>
<circle cx="1439.94" cy="774.3" r="4.8" fill="#000"/>
<circle cx="1462.71" cy="673.5" r="4.8" fill="#000"/>
<circle cx="1462.71" cy="678.2" r="4.8" fill="#000"/>
<circle cx="1462.71" cy="694.3" r="4.8" fill="#000"/>
<circle cx="1462.71" cy="698" r="4.8" fill="#000"/>
<circle cx="1462.71" cy="703.8" r="4.8" fill="#000"/>
<circle cx="1462.71" cy="715.5" r="4.8" fill="#000"/>
<circle cx="1462.71" cy="725" r="4.8" fill="#000"/>
<circle cx="1462.71" cy="759.8" r="4.8" fill="#000"/>
<circle cx="1485.49" cy="667.3" r="4.8" fill="#000"/>
<circle cx="1485.49" cy="671.6" r="4.8" fill="#000"/>
<circle cx="1485.49" cy="676.3" r="4.8" fill="#000"/>
<circle cx="1485.49" cy="684.3" r="4.8" fill="#000"/>
<circle cx="1485.49" cy="689.5" r="4.8" fill="#000"/>
<circle cx="1485.49" cy="700.5" r="4.8" fill="#000"/>
<circle cx="1485.49" cy="710.7" r="4.8" fill="#000"/>
<circle cx="1485.49" cy="744.2" r="4.8" fill="#000"/>
<circle cx="1485.49" cy="780.3" r="4.8" fill="#000"/>
<circle cx="1508.27" cy="661.2" r="4.8" fill="#000"/>
<circle cx="1508.27" cy="666.9" r="4.8" fill="#000"/>
<circle cx="1508.27" cy="676.8" r="4.8" fill="#000"/>
<circle cx="1508.27" cy="684.3" r="4.8" fill="#000"/>
<circle cx="1508.27" cy="696.1" r="4.8" fill="#000"/>
<circle cx="1508.27" cy="728.7" r="4.8" fill="#000"/>
<circle cx="1508.27" cy="765.3" r="4.8" fill="#000"/>
<circle cx="1531.04" cy="654.6" r="4.8" fill="#000"/>
<circle cx="1531.04" cy="660.2" r="4.8" fill="#000"/>
<circle cx="1531.04" cy="665.9" r="4.8" fill="#000"/>
<circle cx="1531.04" cy="670.6" r="4.8" fill="#000"/>
<circle cx="1531.04" cy="684.3" r="4.8" fill="#000"/>
<circle cx="1531.04" cy="713.3" r="4.8" fill="#000"/>
<circle cx="1531.04" cy="749.8" r="4.8" fill="#000"/>
<circle cx="1553.82" cy="649.8" r="4.8" fill="#000"/>
<circle cx="1553.82" cy="660.7" r="4.8" fill="#000"/>
<circle cx="1553.82" cy="680.1" r="4.8" fill="#000"/>
<circle cx="1553.82" cy="700" r="4.8" fill="#000"/>
<circle cx="1553.82" cy="734.4" r="4.8" fill="#000"/>
<circle cx="1553.82" cy="773.5" r="4.8" fill="#000"/>
<circle cx="1576.59" cy="652.2" r="4.8" fill="#000"/>
<circle cx="1576.59" cy="669.2" r="4.8" fill="#000"/>
<circle cx="1576.59" cy="694.3" r="4.8" fill="#000"/>
<circle cx="1576.59" cy="719.5" r="4.8" fill="#000"/>
<circle cx="1576.59" cy="758.4" r="4.8" fill="#000"/>
<text x="902" y="1063.4" font-size="32" text-anchor="end" >0.0</text>
<text x="902" y="961.82" font-size="32" text-anchor="end" >0.2</text>
<text x="902" y="860.24" font-size="32" text-anchor="end" >0.4</text>
<text x="902" y="758.66" font-size="32" text-anchor="end" >0.6</text>
<text x="902" y="657.08" font-size="32" text-anchor="end" >0.8</text>
<text x="1001.5" y="1100" font-size="32" text-anchor="middle" >40</text>
<text x="1115.38" y="1100" font-size="32" text-anchor="middle" >60</text>
<text x="1229.26" y="1100" font-size="32" text-anchor="middle" >80</text>
<text x="1343.14" y="1100" font-size="32" text-anchor="middle" >100</text>
<text x="1457.02" y="1100" font-size="32" text-anchor="middle" >120</text>
<text x="1570.9" y="1100" font-size="32" text-anchor="middle" >140</text>
<text x="1259.5" y="1157.5" font-size="33.4" text-anchor="middle" >time[DOY]</text>
<text x="927" y="687.1" font-size="44.5" text-anchor="start" >Vr/Vr=0</text>
<text x="835.5" y="845.4" font-size="33.3" text-anchor="middle" transform="rotate(-90 835.5 845.4)" >maksimum flux ratio</text>
<line x1="1764.3" y1="628.4" x2="1764.3" y2="1054.1" stroke="#ececec" stroke-width="1" />
<line x1="1788" y1="628.4" x2="1788" y2="1054.1" stroke="#ececec" stroke-width="1" />
<line x1="1811.7" y1="628.4" x2="1811.7" y2="1054.1" stroke="#ececec" stroke-width="1" />
<line x1="1835.4" y1="628.4" x2="1835.4" y2="1054.1" stroke="#ececec" stroke-width="1" />
<line x1="1859.1" y1="628.4" x2="1859.1" y2="1054.1" stroke="#ececec" stroke-width="1" />
<line x1="1882.8" y1="628.4" x2="1882.8" y2="1054.1" stroke="#ececec" stroke-width="1" />
<line x1="1906.5" y1="628.4" x2="1906.5" y2="1054.1" stroke="#ececec" stroke-width="1" />
<line x1="1930.2" y1="628.4" x2="1930.2" y2="1054.1" stroke="#ececec" stroke-width="1" />
<line x1="1953.9" y1="628.4" x2="1953.9" y2="1054.1" stroke="#ececec" stroke-width="1" />
<line x1="1977.6" y1="628.4" x2="1977.6" y2="1054.1" stroke="#ececec" stroke-width="1" />
<line x1="2001.3" y1="628.4" x2="2001.3" y2="1054.1" stroke="#ececec" stroke-width="1" />
<line x1="2025" y1="628.4" x2="2025" y2="1054.1" stroke="#ececec" stroke-width="1" />
<line x1="2048.7" y1="628.4" x2="2048.7" y2="1054.1" stroke="#ececec" stroke-width="1" />
<line x1="2072.4" y1="628.4" x2="2072.4" y2="1054.1" stroke="#ececec" stroke-width="1" />
<line x1="2096.1" y1="628.4" x2="2096.1" y2="1054.1" stroke="#ececec" stroke-width="1" />
<line x1="2119.8" y1="628.4" x2="2119.8" y2="1054.1" stroke="#ececec" stroke-width="1" />
<line x1="2143.5" y1="628.4" x2="2143.5" y2="1054.1" stroke="#ececec" stroke-width="1" />
<line x1="1741.4" y1="722" x2="2167" y2="722" stroke="#dedede" stroke-width="1" />
<line x1="1741.4" y1="740.6" x2="2167" y2="740.6" stroke="#dedede" stroke-width="1" />
<line x1="1741.4" y1="752" x2="2167" y2="752" stroke="#dedede" stroke-width="1" />
<line x1="1741.4" y1="799.3" x2="2167" y2="799.3" stroke="#dedede" stroke-width="1" />
<line x1="1741.4" y1="823.8" x2="2167" y2="823.8" stroke="#dedede" stroke-width="1" />
<line x1="1741.4" y1="917.3" x2="2167" y2="917.3" stroke="#dedede" stroke-width="1" />
<line x1="1741.4" y1="947" x2="2167" y2="947" stroke="#dedede" stroke-width="1" />
<line x1="1741.4" y1="975.8" x2="2167" y2="975.8" stroke="#dedede" stroke-width="1" />
<line x1="1741.4" y1="994.4" x2="2167" y2="994.4" stroke="#dedede" stroke-width="1" />
<rect x="1741.4" y="628.4" width="425.5999999999999" height="425.69999999999993" fill="none" stroke="#707070" stroke-width="1.1"/>
<line x1="1741.4" y1="1017.74" x2="1745.4" y2="1017.74" stroke="#777" stroke-width="1" />
<line x1="2167" y1="1017.74" x2="2163" y2="1017.74" stroke="#777" stroke-width="1" />
<line x1="1741.4" y1="993.48" x2="1745.4" y2="993.48" stroke="#777" stroke-width="1" />
<line x1="2167" y1="993.48" x2="2163" y2="993.48" stroke="#777" stroke-width="1" />
<line x1="1741.4" y1="974.66" x2="1748.4" y2="974.66" stroke="#777" stroke-width="1" />
<line x1="2167" y1="974.66" x2="2160" y2="974.66" stroke="#777" stroke-width="1" />
<line x1="1741.4" y1="959.28" x2="1745.4" y2="959.28" stroke="#777" stroke-width="1" />
<line x1="2167" y1="959.28" x2="2163" y2="959.28" stroke="#777" stroke-width="1" />
<line x1="1741.4" y1="946.28" x2="1745.4" y2="946.28" stroke="#777" stroke-width="1" />
<line x1="2167" y1="946.28" x2="2163" y2="946.28" stroke="#777" stroke-width="1" />
<line x1="1741.4" y1="935.02" x2="1745.4" y2="935.02" stroke="#777" stroke-width="1" />
<line x1="2167" y1="935.02" x2="2163" y2="935.02" stroke="#777" stroke-width="1" />
<line x1="1741.4" y1="925.09" x2="1745.4" y2="925.09" stroke="#777" stroke-width="1" />
<line x1="2167" y1="925.09" x2="2163" y2="925.09" stroke="#777" stroke-width="1" />
<line x1="1741.4" y1="916.2" x2="1748.4" y2="916.2" stroke="#777" stroke-width="1" />
<line x1="2167" y1="916.2" x2="2160" y2="916.2" stroke="#777" stroke-width="1" />
<line x1="1741.4" y1="857.74" x2="1745.4" y2="857.74" stroke="#777" stroke-width="1" />
<line x1="2167" y1="857.74" x2="2163" y2="857.74" stroke="#777" stroke-width="1" />
<line x1="1741.4" y1="823.54" x2="1745.4" y2="823.54" stroke="#777" stroke-width="1" />
<line x1="2167" y1="823.54" x2="2163" y2="823.54" stroke="#777" stroke-width="1" />
<line x1="1741.4" y1="799.28" x2="1745.4" y2="799.28" stroke="#777" stroke-width="1" />
<line x1="2167" y1="799.28" x2="2163" y2="799.28" stroke="#777" stroke-width="1" />
<line x1="1741.4" y1="780.46" x2="1748.4" y2="780.46" stroke="#777" stroke-width="1" />
<line x1="2167" y1="780.46" x2="2160" y2="780.46" stroke="#777" stroke-width="1" />
<line x1="1741.4" y1="765.08" x2="1745.4" y2="765.08" stroke="#777" stroke-width="1" />
<line x1="2167" y1="765.08" x2="2163" y2="765.08" stroke="#777" stroke-width="1" />
<line x1="1741.4" y1="752.08" x2="1745.4" y2="752.08" stroke="#777" stroke-width="1" />
<line x1="2167" y1="752.08" x2="2163" y2="752.08" stroke="#777" stroke-width="1" />
<line x1="1741.4" y1="740.82" x2="1745.4" y2="740.82" stroke="#777" stroke-width="1" />
<line x1="2167" y1="740.82" x2="2163" y2="740.82" stroke="#777" stroke-width="1" />
<line x1="1741.4" y1="730.89" x2="1745.4" y2="730.89" stroke="#777" stroke-width="1" />
<line x1="2167" y1="730.89" x2="2163" y2="730.89" stroke="#777" stroke-width="1" />
<line x1="1741.4" y1="722" x2="1748.4" y2="722" stroke="#777" stroke-width="1" />
<line x1="2167" y1="722" x2="2160" y2="722" stroke="#777" stroke-width="1" />
<line x1="1741.4" y1="663.54" x2="1745.4" y2="663.54" stroke="#777" stroke-width="1" />
<line x1="2167" y1="663.54" x2="2163" y2="663.54" stroke="#777" stroke-width="1" />
<line x1="1741.4" y1="629.34" x2="1745.4" y2="629.34" stroke="#777" stroke-width="1" />
<line x1="2167" y1="629.34" x2="2163" y2="629.34" stroke="#777" stroke-width="1" />
<polyline points="1829.7,1052.8 1831.6,1021.4 1834.6,995.1 1837.5,976.1 1840.4,948.4 1844.1,919.2 1846.6,900 1849,880.2 1852.6,858.6 1858.6,823.7 1862.8,799.7 1867,780.4 1869,770 1871.5,762 1878.6,739.4 1892.2,719 1906,719 1921.1,739.4 1925.9,756.2 1928,762 1935.5,781.6 1939.1,800.9 1943.9,823.7 1950.5,861 1954.3,890 1959.4,926.5 1963.8,963 1968.2,999.5 1973.3,1053.5" fill="none" stroke="#000" stroke-width="2.5" stroke-linejoin="round" />
<polyline points="1822.9,1052.8 1825.1,1021.4 1828,995.1 1830.9,976.1 1833.8,946.9 1836.8,919.2 1840,900 1843,868.2 1846.6,844.2 1850.2,823.7 1853.8,805.7 1858.6,780.4 1861.8,770 1866.6,743 1871.4,732.2 1878.6,703.3 1892.2,685.9 1906,688.9 1921.1,707 1933.1,737 1937.3,760 1939.1,770 1942.1,784 1946.3,800.9 1950.5,823.7 1956.5,862.2 1959.2,890 1964.5,926.5 1969.6,971.8 1974,1014.1 1979.1,1053.5" fill="none" stroke="#000" stroke-width="2.5" stroke-linejoin="round" stroke-dasharray="10,4.8" />
<polyline points="1829.1,823.7 1837,799.7 1844.2,780.4 1850.2,769.6 1856.2,760 1864.2,749 1878.6,742.4 1885,745.4 1892.5,750.2 1905.4,759.9 1921.1,764.7 1932.5,772 1940.9,781.6 1950.5,798.5 1957.7,820.1 1964.9,841.8 1970.9,861 1977,887.4 1979.4,900 1985,925 1990,950" fill="none" stroke="#808080" stroke-width="2.5" stroke-linejoin="round" />
<polyline points="1814.7,823.7 1821.3,799.7 1827.3,781 1832.9,767.1 1843.7,740.6 1852.1,726.2 1863,711.8 1878,704.5 1895.4,714.8 1906.6,722.6 1921.1,729.8 1935.5,737 1942.7,749 1951.7,769.6 1963.7,796.1 1972.1,823.7 1981.8,862.2 1990.2,898.3 1995.9,919.2 2003.2,952.8 2010.5,984.9 2017.8,1018.5 2024.4,1052" fill="none" stroke="#808080" stroke-width="2.5" stroke-linejoin="round" stroke-dasharray="10,4.8" stroke-dashoffset="5"/>
<polyline points="1781.3,1052.8 1786.4,1019.9 1790.8,995.1 1794.4,974.7 1799.5,948.4 1806.1,917.7 1809.9,900 1814.1,880.2 1820.1,856.2 1829.1,823.7 1835.1,799.7 1840,780.4 1846,760 1849.7,746.6 1854.5,732.2 1863,709.4 1877.4,681.7 1892.2,673.6 1906,678.1 1920.5,690.7 1934.3,714.2 1942.7,738.2 1948.1,760 1952.9,778 1958.9,800.9 1964.9,823.7 1972.1,858.6 1978.4,890 1985.7,919.2 1991.5,951.3" fill="none" stroke="#ff0000" stroke-width="2.5" stroke-linejoin="round" />
<polyline points="1767.4,1052.8 1772.5,1021.4 1778.4,995.1 1782.7,974.7 1788.6,945.5 1793.7,917.7 1798.8,892.9 1800.9,880.2 1808.1,851.4 1814.7,823.7 1821.3,799.7 1827.3,780.4 1830.5,767.1 1835.3,755 1840.1,738.2 1843.7,726.2 1848.5,711.8 1854.5,692.5 1859.4,680.5 1864.2,667.3 1871.4,657.7 1878.6,645.6 1892.3,639.8 1906,645.6 1919.9,657.1 1933.1,680.5 1941.5,702.1 1948.7,721.4 1955.9,741.8 1960,766 1967.3,799.7 1975.7,832.1 1983,859.8 1991.1,900 1995.9,919.2 2003.2,952.8 2010.5,984.9 2017.8,1018.5 2024.4,1052" fill="none" stroke="#ff0000" stroke-width="2.5" stroke-linejoin="round" stroke-dasharray="10,4.8" />
<polyline points="1919.4,709.3 1996.4,709.3" fill="none" stroke="#000" stroke-width="3.5" stroke-linejoin="round" />
<text x="2013.5" y="715.3" font-size="30.5" text-anchor="start" ><tspan font-style="italic">H</tspan><tspan font-size="21" dy="6">pri</tspan></text>
<polyline points="1919.4,774.9 1992.5,774.9" fill="none" stroke="#000" stroke-width="3.5" stroke-linejoin="round" stroke-dasharray="11,4.2" />
<text x="2013.5" y="780.9" font-size="30.5" text-anchor="start" ><tspan font-style="italic">H</tspan><tspan font-size="21" dy="6">pri</tspan><tspan dy="-6" dx="10.5">Vr=0</tspan></text>
<polyline points="1919.4,839.9 1996.4,839.9" fill="none" stroke="#808080" stroke-width="3.5" stroke-linejoin="round" />
<text x="2013.5" y="845.9" font-size="30.5" text-anchor="start" ><tspan font-style="italic">H</tspan><tspan font-size="21" dy="6">sec</tspan></text>
<polyline points="1919.4,902.6 1992.5,902.6" fill="none" stroke="#808080" stroke-width="3.5" stroke-linejoin="round" stroke-dasharray="11,4.2" />
<text x="2013.5" y="908.6" font-size="30.5" text-anchor="start" ><tspan font-style="italic">H</tspan><tspan font-size="21" dy="6">sec</tspan><tspan dy="-6" dx="10.5">Vr=0</tspan></text>
<polyline points="1919.4,965 1996.4,965" fill="none" stroke="#ff0000" stroke-width="3.5" stroke-linejoin="round" />
<text x="2013.5" y="971" font-size="30.5" text-anchor="start" ><tspan font-style="italic">H</tspan><tspan font-size="21" dy="6">sum</tspan></text>
<polyline points="1919.4,1028.3 1992.5,1028.3" fill="none" stroke="#ff0000" stroke-width="3.5" stroke-linejoin="round" stroke-dasharray="11,4.2" />
<text x="2013.5" y="1034.3" font-size="30.5" text-anchor="start" ><tspan font-style="italic">H</tspan><tspan font-size="21" dy="6">sum</tspan><tspan dy="-6" dx="10.5">Vr=0</tspan></text>
<text x="1733.5" y="731" font-size="29" text-anchor="end" >10<tspan dy="-12" font-size="20">4</tspan></text>
<text x="1731" y="789.26" font-size="29" text-anchor="end" >5000</text>
<text x="1731" y="925" font-size="29" text-anchor="end" >1000</text>
<text x="1731" y="983.46" font-size="29" text-anchor="end" >500</text>
<text x="1834.4" y="1089.5" font-size="29" text-anchor="middle" >60</text>
<text x="1976.6" y="1089.5" font-size="29" text-anchor="middle" >120</text>
<text x="2118.8" y="1089.5" font-size="29" text-anchor="middle" >180</text>
<text x="1951.2" y="1142" font-size="30.2" text-anchor="middle" >spin angle</text>
<text x="1642.6" y="840.1" font-size="32.5" text-anchor="middle" transform="rotate(-90 1642.6 840.1)" textLength="194" lengthAdjust="spacingAndGlyphs" >flux [cm^<tspan dy="-13.8" font-size="22.75">−2</tspan><tspan dy="13.8">s</tspan><tspan dy="-13.8" font-size="22.75">−1</tspan><tspan dy="13.8">]</tspan></text>
<text x="1952.5" y="617.6" font-size="36" text-anchor="middle" >DOY = 117, <tspan font-style="italic">ε</tspan> = 104, flux</text>
</svg>
</body></html>
